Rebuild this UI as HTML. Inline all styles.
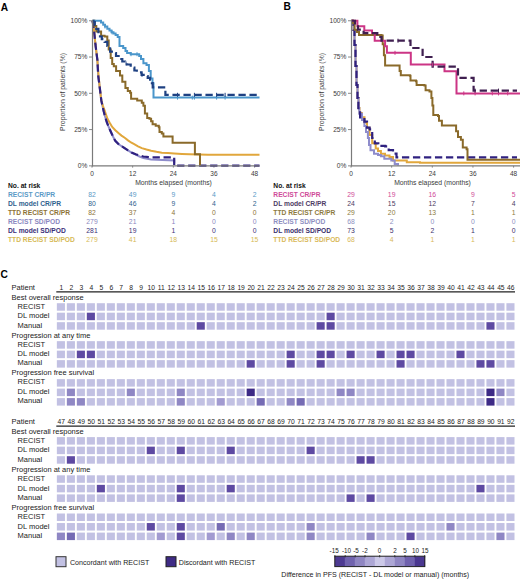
<!DOCTYPE html>
<html><head><meta charset="utf-8"><style>
html,body{margin:0;padding:0;background:#fff;}
svg{display:block;}
text{font-family:"Liberation Sans", sans-serif;}
</style></head><body>
<svg width="520" height="579" viewBox="0 0 520 579" style='font-family:"Liberation Sans", sans-serif'>
<rect width="520" height="579" fill="#fff"/>
<text x="0.8" y="11.2" font-size="10.2" font-weight="bold" fill="#000">A</text>
<text x="62.5" y="92" font-size="6.9" fill="#3a3a3a" text-anchor="middle" transform="rotate(-90 62.5 92)" dominant-baseline="central">Proportion of patients (%)</text>
<line x1="89.0" y1="165.85" x2="92.0" y2="165.85" stroke="#7a7a7a" stroke-width="0.9"/>
<text x="87.4" y="168.15" font-size="6.6" fill="#3a3a3a" text-anchor="end">0%</text>
<line x1="89.0" y1="129.575" x2="92.0" y2="129.575" stroke="#7a7a7a" stroke-width="0.9"/>
<text x="87.4" y="131.875" font-size="6.6" fill="#3a3a3a" text-anchor="end">25%</text>
<line x1="89.0" y1="93.3" x2="92.0" y2="93.3" stroke="#7a7a7a" stroke-width="0.9"/>
<text x="87.4" y="95.6" font-size="6.6" fill="#3a3a3a" text-anchor="end">50%</text>
<line x1="89.0" y1="57.02499999999999" x2="92.0" y2="57.02499999999999" stroke="#7a7a7a" stroke-width="0.9"/>
<text x="87.4" y="59.32499999999999" font-size="6.6" fill="#3a3a3a" text-anchor="end">75%</text>
<line x1="89.0" y1="20.75" x2="92.0" y2="20.75" stroke="#7a7a7a" stroke-width="0.9"/>
<text x="87.4" y="23.05" font-size="6.6" fill="#3a3a3a" text-anchor="end">100%</text>
<line x1="92.0" y1="165.85" x2="92.0" y2="167.65" stroke="#7a7a7a" stroke-width="0.9"/>
<text x="92.0" y="175.7" font-size="6.5" fill="#3a3a3a" text-anchor="middle">0</text>
<line x1="132.65" y1="165.85" x2="132.65" y2="167.65" stroke="#7a7a7a" stroke-width="0.9"/>
<text x="132.65" y="175.7" font-size="6.5" fill="#3a3a3a" text-anchor="middle">12</text>
<line x1="173.3" y1="165.85" x2="173.3" y2="167.65" stroke="#7a7a7a" stroke-width="0.9"/>
<text x="173.3" y="175.7" font-size="6.5" fill="#3a3a3a" text-anchor="middle">24</text>
<line x1="213.95" y1="165.85" x2="213.95" y2="167.65" stroke="#7a7a7a" stroke-width="0.9"/>
<text x="213.95" y="175.7" font-size="6.5" fill="#3a3a3a" text-anchor="middle">36</text>
<line x1="254.6" y1="165.85" x2="254.6" y2="167.65" stroke="#7a7a7a" stroke-width="0.9"/>
<text x="254.6" y="175.7" font-size="6.5" fill="#3a3a3a" text-anchor="middle">48</text>
<text x="173.5" y="185.2" font-size="6.8" fill="#3a3a3a" text-anchor="middle">Months elapsed (months)</text>
<polyline points="92.50,20.75 93.50,26.00 94.50,35.00 95.50,45.00 96.50,53.00 97.40,60.00 98.20,75.60 99.80,88.00 101.30,100.40 102.50,106.00 103.70,111.30 105.20,117.00 106.80,122.20 108.70,127.00 110.70,131.50 113.00,136.50 115.30,140.90 119.00,144.50 123.10,147.10 128.00,150.40 131.50,152.50 135.70,154.60 139.50,156.50 143.40,158.10 151.10,159.60 174.20,160.40 174.20,163.00" fill="none" stroke="#8e8ccb" stroke-width="2"/>
<polyline points="92.50,20.75 93.50,26.00 94.50,35.00 95.50,45.00 96.50,53.00 97.50,62.00 98.50,75.00 99.80,88.00 101.30,100.40 102.80,105.50 104.40,109.80 106.00,114.50 107.60,119.10 110.00,123.30 112.20,126.90 115.30,130.20 118.40,133.10 121.50,135.60 124.70,137.80 128.00,140.40 131.00,142.50 134.20,144.20 138.00,146.30 141.80,148.10 146.50,149.50 151.10,150.70 156.50,151.80 161.80,152.70 168.00,153.10 174.20,153.50 182.00,153.90 189.50,154.20 208.00,154.70 259.50,154.70" fill="none" stroke="#e1a73c" stroke-width="2"/>
<polyline points="92.50,20.75 93.50,26.00 94.50,35.00 95.50,45.00 96.50,53.00 97.40,60.00 98.20,75.60 99.80,88.00 101.30,100.40 102.50,106.00 103.70,111.30 105.20,117.00 106.80,122.20 108.70,127.00 110.70,131.50 113.00,136.50 115.30,140.90 119.00,144.50 123.10,147.10 128.00,150.40 131.50,152.50 135.70,154.20 139.50,155.50 143.40,156.50 151.10,157.30 174.20,157.30 174.20,165.70 259.50,165.70" fill="none" stroke="#2f2180" stroke-width="2.2" stroke-dasharray="7.3 3.7"/>
<polyline points="92.50,20.75 94.50,20.75 94.50,26.00 96.30,26.00 96.30,31.60 101.10,31.60 101.10,35.70 104.60,35.70 104.60,36.40 107.30,36.40 107.30,40.60 108.70,40.60 108.70,49.50 110.70,49.50 110.70,58.00 112.20,58.00 112.20,64.00 113.80,64.00 113.80,66.20 116.10,66.20 116.10,70.90 120.00,70.90 120.00,75.60 122.30,75.60 122.30,81.80 125.40,81.80 125.40,88.00 127.80,88.00 127.80,91.10 130.10,91.10 130.10,92.70 131.10,92.70 131.10,98.80 137.20,98.80 137.20,100.40 141.80,100.40 141.80,102.70 143.40,102.70 143.40,105.80 144.90,105.80 144.90,113.50 147.20,113.50 147.20,118.10 149.50,118.10 149.50,118.80 151.10,118.80 151.10,121.20 152.60,121.20 152.60,124.20 155.70,124.20 155.70,125.80 158.80,125.80 158.80,127.30 159.50,127.30 159.50,131.90 161.80,131.90 161.80,133.50 163.40,133.50 163.40,136.50 171.80,136.50 172.60,136.50 172.60,142.70 194.20,142.70 194.90,142.70 194.90,154.20 199.50,154.20 200.00,154.20 200.00,165.70" fill="none" stroke="#8a6a2a" stroke-width="2"/>
<polyline points="92.50,20.75 99.00,20.75 101.00,20.75 101.00,22.50 103.20,22.50 103.20,24.70 105.00,24.70 105.00,26.50 107.30,26.50 107.30,28.80 109.50,28.80 109.50,30.50 111.50,30.50 111.50,32.30 113.50,32.30 113.50,33.60 115.60,33.60 115.60,35.00 117.70,35.00 117.70,37.10 119.50,37.10 119.50,46.00 123.20,46.00 123.20,48.10 125.50,48.10 125.50,51.00 127.10,51.00 127.10,53.00 130.70,53.00 130.70,54.20 135.60,54.20 139.20,54.20 139.20,56.00 141.00,56.00 141.00,59.00 143.40,59.00 143.40,63.30 146.50,63.30 146.50,65.10 148.90,65.10 148.90,71.10 150.70,71.10 150.70,78.40 152.50,78.40 152.50,83.20 153.50,83.20 153.50,86.90 153.50,97.60 259.50,97.60" fill="none" stroke="#4a96cb" stroke-width="2"/>
<polyline points="92.50,20.75 93.50,20.75 93.50,22.00 94.80,22.00 94.80,25.00 96.30,25.00 96.30,28.80 98.40,28.80 98.40,33.60 100.00,33.60 100.00,36.50 101.80,36.50 101.80,39.20 104.60,39.20 104.60,41.90 107.30,41.90 107.30,46.00 110.10,46.00 110.10,51.60 113.60,51.60 113.60,53.00 116.00,53.00 116.00,56.00 118.60,56.00 118.60,59.00 122.30,59.00 122.30,61.50 125.00,61.50 125.00,63.00 127.10,63.00 127.10,64.50 130.70,64.50 130.70,67.50 134.40,67.50 134.40,70.50 136.80,70.50 136.80,72.30 141.60,72.30 141.60,74.80 145.20,74.80 145.20,76.00 147.70,76.00 147.70,77.80 150.10,77.80 150.10,79.60 151.90,79.60 151.90,83.20 152.70,83.20 152.70,87.30 162.70,87.30 165.40,87.30 165.40,94.80 259.50,94.80" fill="none" stroke="#1f4182" stroke-width="2.2" stroke-dasharray="7.3 3.7"/>
<line x1="177.5" y1="95.6" x2="177.5" y2="99.6" stroke="#4a96cb" stroke-width="1"/>
<line x1="192.3" y1="95.6" x2="192.3" y2="99.6" stroke="#4a96cb" stroke-width="1"/>
<line x1="194.4" y1="95.6" x2="194.4" y2="99.6" stroke="#4a96cb" stroke-width="1"/>
<line x1="216.6" y1="95.6" x2="216.6" y2="99.6" stroke="#4a96cb" stroke-width="1"/>
<line x1="225.1" y1="95.6" x2="225.1" y2="99.6" stroke="#4a96cb" stroke-width="1"/>
<line x1="177.5" y1="92.8" x2="177.5" y2="96.8" stroke="#1f4182" stroke-width="1"/>
<line x1="194.4" y1="92.8" x2="194.4" y2="96.8" stroke="#1f4182" stroke-width="1"/>
<line x1="216.6" y1="92.8" x2="216.6" y2="96.8" stroke="#1f4182" stroke-width="1"/>
<line x1="225.1" y1="92.8" x2="225.1" y2="96.8" stroke="#1f4182" stroke-width="1"/>
<line x1="105" y1="24.5" x2="105" y2="28.5" stroke="#4a96cb" stroke-width="1"/>
<line x1="112" y1="30.299999999999997" x2="112" y2="34.3" stroke="#4a96cb" stroke-width="1"/>
<line x1="131" y1="52.2" x2="131" y2="56.2" stroke="#4a96cb" stroke-width="1"/>
<line x1="137" y1="52.2" x2="137" y2="56.2" stroke="#4a96cb" stroke-width="1"/>
<line x1="126" y1="61.5" x2="126" y2="65.5" stroke="#1f4182" stroke-width="1"/>
<line x1="142" y1="72.8" x2="142" y2="76.8" stroke="#1f4182" stroke-width="1"/>
<line x1="92.5" y1="20.25" x2="92.5" y2="166.45" stroke="#7a7a7a" stroke-width="1.2"/>
<line x1="92.0" y1="165.85" x2="259.5" y2="165.85" stroke="#7a7a7a" stroke-width="1.4"/>
<text x="8.0" y="187.9" font-size="6.7" font-weight="bold" fill="#111">No. at risk</text>
<text x="8.0" y="196.6" font-size="6.7" font-weight="bold" fill="#5b9ac6">RECIST CR/PR</text>
<text x="92.0" y="196.6" font-size="6.8" fill="#5b9ac6" text-anchor="middle">82</text>
<text x="132.65" y="196.6" font-size="6.8" fill="#5b9ac6" text-anchor="middle">49</text>
<text x="173.3" y="196.6" font-size="6.8" fill="#5b9ac6" text-anchor="middle">9</text>
<text x="213.95" y="196.6" font-size="6.8" fill="#5b9ac6" text-anchor="middle">4</text>
<text x="254.6" y="196.6" font-size="6.8" fill="#5b9ac6" text-anchor="middle">2</text>
<text x="8.0" y="205.65" font-size="6.7" font-weight="bold" fill="#2f5f8e">DL model CR/PR</text>
<text x="92.0" y="205.65" font-size="6.8" fill="#2f5f8e" text-anchor="middle">80</text>
<text x="132.65" y="205.65" font-size="6.8" fill="#2f5f8e" text-anchor="middle">46</text>
<text x="173.3" y="205.65" font-size="6.8" fill="#2f5f8e" text-anchor="middle">9</text>
<text x="213.95" y="205.65" font-size="6.8" fill="#2f5f8e" text-anchor="middle">4</text>
<text x="254.6" y="205.65" font-size="6.8" fill="#2f5f8e" text-anchor="middle">2</text>
<text x="8.0" y="214.7" font-size="6.7" font-weight="bold" fill="#8d7236">TTD RECIST CR/PR</text>
<text x="92.0" y="214.7" font-size="6.8" fill="#8d7236" text-anchor="middle">82</text>
<text x="132.65" y="214.7" font-size="6.8" fill="#8d7236" text-anchor="middle">37</text>
<text x="173.3" y="214.7" font-size="6.8" fill="#8d7236" text-anchor="middle">4</text>
<text x="213.95" y="214.7" font-size="6.8" fill="#8d7236" text-anchor="middle">0</text>
<text x="254.6" y="214.7" font-size="6.8" fill="#8d7236" text-anchor="middle">0</text>
<text x="8.0" y="223.75" font-size="6.7" font-weight="bold" fill="#8b88c0">RECIST SD/POD</text>
<text x="92.0" y="223.75" font-size="6.8" fill="#8b88c0" text-anchor="middle">279</text>
<text x="132.65" y="223.75" font-size="6.8" fill="#8b88c0" text-anchor="middle">21</text>
<text x="173.3" y="223.75" font-size="6.8" fill="#8b88c0" text-anchor="middle">1</text>
<text x="213.95" y="223.75" font-size="6.8" fill="#8b88c0" text-anchor="middle">0</text>
<text x="254.6" y="223.75" font-size="6.8" fill="#8b88c0" text-anchor="middle">0</text>
<text x="8.0" y="232.8" font-size="6.7" font-weight="bold" fill="#3a2f78">DL model SD/POD</text>
<text x="92.0" y="232.8" font-size="6.8" fill="#3a2f78" text-anchor="middle">281</text>
<text x="132.65" y="232.8" font-size="6.8" fill="#3a2f78" text-anchor="middle">19</text>
<text x="173.3" y="232.8" font-size="6.8" fill="#3a2f78" text-anchor="middle">1</text>
<text x="213.95" y="232.8" font-size="6.8" fill="#3a2f78" text-anchor="middle">0</text>
<text x="254.6" y="232.8" font-size="6.8" fill="#3a2f78" text-anchor="middle">0</text>
<text x="8.0" y="241.85" font-size="6.7" font-weight="bold" fill="#d6ba55">TTD RECIST SD/POD</text>
<text x="92.0" y="241.85" font-size="6.8" fill="#d6ba55" text-anchor="middle">279</text>
<text x="132.65" y="241.85" font-size="6.8" fill="#d6ba55" text-anchor="middle">41</text>
<text x="173.3" y="241.85" font-size="6.8" fill="#d6ba55" text-anchor="middle">18</text>
<text x="213.95" y="241.85" font-size="6.8" fill="#d6ba55" text-anchor="middle">15</text>
<text x="254.6" y="241.85" font-size="6.8" fill="#d6ba55" text-anchor="middle">15</text>
<text x="283.6" y="9.6" font-size="10.2" font-weight="bold" fill="#000">B</text>
<text x="321.5" y="92" font-size="6.9" fill="#3a3a3a" text-anchor="middle" transform="rotate(-90 321.5 92)" dominant-baseline="central">Proportion of patients (%)</text>
<line x1="348.0" y1="165.85" x2="351.0" y2="165.85" stroke="#7a7a7a" stroke-width="0.9"/>
<text x="346.4" y="168.15" font-size="6.6" fill="#3a3a3a" text-anchor="end">0%</text>
<line x1="348.0" y1="129.575" x2="351.0" y2="129.575" stroke="#7a7a7a" stroke-width="0.9"/>
<text x="346.4" y="131.875" font-size="6.6" fill="#3a3a3a" text-anchor="end">25%</text>
<line x1="348.0" y1="93.3" x2="351.0" y2="93.3" stroke="#7a7a7a" stroke-width="0.9"/>
<text x="346.4" y="95.6" font-size="6.6" fill="#3a3a3a" text-anchor="end">50%</text>
<line x1="348.0" y1="57.02499999999999" x2="351.0" y2="57.02499999999999" stroke="#7a7a7a" stroke-width="0.9"/>
<text x="346.4" y="59.32499999999999" font-size="6.6" fill="#3a3a3a" text-anchor="end">75%</text>
<line x1="348.0" y1="20.75" x2="351.0" y2="20.75" stroke="#7a7a7a" stroke-width="0.9"/>
<text x="346.4" y="23.05" font-size="6.6" fill="#3a3a3a" text-anchor="end">100%</text>
<line x1="351.0" y1="165.85" x2="351.0" y2="167.65" stroke="#7a7a7a" stroke-width="0.9"/>
<text x="351.0" y="175.7" font-size="6.5" fill="#3a3a3a" text-anchor="middle">0</text>
<line x1="391.65" y1="165.85" x2="391.65" y2="167.65" stroke="#7a7a7a" stroke-width="0.9"/>
<text x="391.65" y="175.7" font-size="6.5" fill="#3a3a3a" text-anchor="middle">12</text>
<line x1="432.3" y1="165.85" x2="432.3" y2="167.65" stroke="#7a7a7a" stroke-width="0.9"/>
<text x="432.3" y="175.7" font-size="6.5" fill="#3a3a3a" text-anchor="middle">24</text>
<line x1="472.95" y1="165.85" x2="472.95" y2="167.65" stroke="#7a7a7a" stroke-width="0.9"/>
<text x="472.95" y="175.7" font-size="6.5" fill="#3a3a3a" text-anchor="middle">36</text>
<line x1="513.6" y1="165.85" x2="513.6" y2="167.65" stroke="#7a7a7a" stroke-width="0.9"/>
<text x="513.6" y="175.7" font-size="6.5" fill="#3a3a3a" text-anchor="middle">48</text>
<text x="432.5" y="185.2" font-size="6.8" fill="#3a3a3a" text-anchor="middle">Months elapsed (months)</text>
<polyline points="351.50,20.75 352.50,20.75 352.50,22.00 353.50,22.00 353.50,30.00 354.50,30.00 354.50,45.00 355.50,45.00 355.50,66.00 356.50,66.00 356.50,85.00 357.50,85.00 357.50,98.00 358.50,98.00 358.50,108.00 359.50,108.00 359.50,113.00 361.80,113.00 361.80,117.30 364.50,117.30 364.50,122.50 367.00,122.50 367.00,127.70 369.50,127.70 369.50,135.00 372.20,135.00 372.20,143.30 375.70,143.30 375.70,148.50 378.00,148.50 378.00,151.00 380.90,151.00 380.90,153.70 385.00,153.70 385.00,155.50 389.50,155.50 389.50,157.10 393.00,157.10 393.00,160.60 406.80,160.60 406.80,162.30 420.00,162.30 420.00,162.80 520.00,162.80" fill="none" stroke="#e1a73c" stroke-width="2"/>
<polyline points="351.50,20.75 352.50,20.75 352.50,22.00 353.50,22.00 353.50,30.00 354.50,30.00 354.50,45.00 355.50,45.00 355.50,66.00 356.50,66.00 356.50,85.00 357.50,85.00 357.50,98.00 358.50,98.00 358.50,108.00 359.20,108.00 359.20,113.80 362.00,113.80 362.00,120.00 364.40,120.00 364.40,126.00 366.00,126.00 366.00,132.00 367.90,132.00 367.90,138.00 369.00,138.00 369.00,145.00 370.50,145.00 370.50,150.20 374.00,150.20 374.00,153.70 378.00,153.70 378.00,155.00 380.90,155.00 380.90,156.20 384.30,156.20 384.30,158.80 391.30,158.80 391.30,160.60 394.70,160.60 394.70,164.00 398.00,164.00 398.00,165.40" fill="none" stroke="#8e8ccb" stroke-width="2"/>
<polyline points="351.50,20.75 352.50,20.75 352.50,22.00 353.50,22.00 353.50,30.00 354.50,30.00 354.50,45.00 355.50,45.00 355.50,66.00 356.50,66.00 356.50,85.00 357.50,85.00 357.50,98.00 358.40,98.00 358.40,110.40 360.10,110.40 360.10,119.00 364.40,119.00 364.40,121.60 367.00,121.60 367.00,127.70 369.60,127.70 369.60,129.40 372.20,129.40 372.20,138.00 374.80,138.00 374.80,143.30 378.30,143.30 378.30,145.90 385.20,145.90 385.20,146.40 388.70,146.40 388.70,150.20 393.00,150.20 393.00,153.70 396.50,153.70 396.50,157.30 517.00,157.30" fill="none" stroke="#2f2180" stroke-width="2.2" stroke-dasharray="7.3 3.7"/>
<polyline points="351.50,20.75 353.00,20.75 353.00,23.00 354.60,23.00 354.60,29.70 357.00,29.70 357.00,32.00 359.00,32.00 359.00,34.90 381.50,34.90 381.50,35.50 382.70,35.50 382.70,44.30 383.90,44.30 383.90,55.20 385.10,55.20 385.10,65.50 399.00,65.50 399.60,65.50 399.60,71.00 400.80,71.00 400.80,75.20 409.90,75.20 409.90,75.80 410.50,75.80 410.50,80.60 416.00,80.60 416.00,81.20 416.60,81.20 416.60,84.90 424.40,84.90 424.40,85.50 425.60,85.50 425.60,90.30 429.50,90.30 429.50,91.40 431.40,91.40 431.40,98.00 432.40,98.00 432.40,105.60 433.30,105.60 433.30,115.10 438.00,115.10 438.00,116.00 439.00,116.00 439.00,120.80 441.90,120.80 441.90,125.60 455.20,125.60 456.10,125.60 456.10,131.30 458.00,131.30 458.00,137.00 460.90,137.00 460.90,139.80 462.80,139.80 462.80,147.40 466.60,147.40 466.60,149.30 467.50,149.30 467.50,159.80 520.00,159.80" fill="none" stroke="#8a6a2a" stroke-width="2"/>
<polyline points="351.50,20.75 357.40,20.75 357.40,26.20 364.30,26.20 364.30,30.50 372.00,30.50 372.00,33.10 374.70,33.10 374.70,40.80 385.10,40.80 385.10,46.20 386.90,46.20 386.90,52.80 410.80,52.80 410.80,64.50 444.50,64.50 444.50,71.30 456.50,71.30 456.50,93.40 520.00,93.40" fill="none" stroke="#cc3585" stroke-width="2"/>
<polyline points="351.50,20.75 355.00,20.75 355.00,25.00 358.00,25.00 358.00,29.70 363.60,29.70 363.60,33.20 377.30,33.20 377.30,37.00 381.50,37.00 381.50,40.70 410.50,40.70 410.50,48.00 422.60,48.00 422.60,57.00 432.60,57.00 432.60,66.70 458.00,66.70 458.00,77.80 473.60,77.80 473.60,90.60 517.00,90.60" fill="none" stroke="#3f1f50" stroke-width="2.2" stroke-dasharray="7.3 3.7"/>
<line x1="463.8" y1="91.4" x2="463.8" y2="95.4" stroke="#cc3585" stroke-width="1"/>
<line x1="475.1" y1="91.4" x2="475.1" y2="95.4" stroke="#cc3585" stroke-width="1"/>
<line x1="492.3" y1="91.4" x2="492.3" y2="95.4" stroke="#cc3585" stroke-width="1"/>
<line x1="498.5" y1="91.4" x2="498.5" y2="95.4" stroke="#cc3585" stroke-width="1"/>
<line x1="507.7" y1="91.4" x2="507.7" y2="95.4" stroke="#cc3585" stroke-width="1"/>
<line x1="475.0" y1="88.6" x2="475.0" y2="92.6" stroke="#3f1f50" stroke-width="1"/>
<line x1="498.5" y1="88.6" x2="498.5" y2="92.6" stroke="#3f1f50" stroke-width="1"/>
<line x1="432.6" y1="62.5" x2="432.6" y2="66.5" stroke="#cc3585" stroke-width="1"/>
<line x1="398" y1="38.7" x2="398" y2="42.7" stroke="#3f1f50" stroke-width="1"/>
<line x1="395" y1="50.8" x2="395" y2="54.8" stroke="#cc3585" stroke-width="1"/>
<line x1="351.5" y1="20.25" x2="351.5" y2="166.45" stroke="#7a7a7a" stroke-width="1.2"/>
<line x1="351.0" y1="165.85" x2="520" y2="165.85" stroke="#7a7a7a" stroke-width="1.4"/>
<text x="273.3" y="187.9" font-size="6.7" font-weight="bold" fill="#111">No. at risk</text>
<text x="273.3" y="196.6" font-size="6.7" font-weight="bold" fill="#cf4b98">RECIST CR/PR</text>
<text x="351.0" y="196.6" font-size="6.8" fill="#cf4b98" text-anchor="middle">29</text>
<text x="391.65" y="196.6" font-size="6.8" fill="#cf4b98" text-anchor="middle">19</text>
<text x="432.3" y="196.6" font-size="6.8" fill="#cf4b98" text-anchor="middle">16</text>
<text x="472.95" y="196.6" font-size="6.8" fill="#cf4b98" text-anchor="middle">9</text>
<text x="513.6" y="196.6" font-size="6.8" fill="#cf4b98" text-anchor="middle">5</text>
<text x="273.3" y="205.65" font-size="6.7" font-weight="bold" fill="#4d3a63">DL model CR/PR</text>
<text x="351.0" y="205.65" font-size="6.8" fill="#4d3a63" text-anchor="middle">24</text>
<text x="391.65" y="205.65" font-size="6.8" fill="#4d3a63" text-anchor="middle">15</text>
<text x="432.3" y="205.65" font-size="6.8" fill="#4d3a63" text-anchor="middle">12</text>
<text x="472.95" y="205.65" font-size="6.8" fill="#4d3a63" text-anchor="middle">7</text>
<text x="513.6" y="205.65" font-size="6.8" fill="#4d3a63" text-anchor="middle">4</text>
<text x="273.3" y="214.7" font-size="6.7" font-weight="bold" fill="#8d7a3e">TTD RECIST CR/PR</text>
<text x="351.0" y="214.7" font-size="6.8" fill="#8d7a3e" text-anchor="middle">29</text>
<text x="391.65" y="214.7" font-size="6.8" fill="#8d7a3e" text-anchor="middle">20</text>
<text x="432.3" y="214.7" font-size="6.8" fill="#8d7a3e" text-anchor="middle">13</text>
<text x="472.95" y="214.7" font-size="6.8" fill="#8d7a3e" text-anchor="middle">1</text>
<text x="513.6" y="214.7" font-size="6.8" fill="#8d7a3e" text-anchor="middle">1</text>
<text x="273.3" y="223.75" font-size="6.7" font-weight="bold" fill="#8e8fbf">RECIST SD/POD</text>
<text x="351.0" y="223.75" font-size="6.8" fill="#8e8fbf" text-anchor="middle">68</text>
<text x="391.65" y="223.75" font-size="6.8" fill="#8e8fbf" text-anchor="middle">2</text>
<text x="432.3" y="223.75" font-size="6.8" fill="#8e8fbf" text-anchor="middle">0</text>
<text x="472.95" y="223.75" font-size="6.8" fill="#8e8fbf" text-anchor="middle">0</text>
<text x="513.6" y="223.75" font-size="6.8" fill="#8e8fbf" text-anchor="middle">0</text>
<text x="273.3" y="232.8" font-size="6.7" font-weight="bold" fill="#3b2f6c">DL model SD/POD</text>
<text x="351.0" y="232.8" font-size="6.8" fill="#3b2f6c" text-anchor="middle">73</text>
<text x="391.65" y="232.8" font-size="6.8" fill="#3b2f6c" text-anchor="middle">5</text>
<text x="432.3" y="232.8" font-size="6.8" fill="#3b2f6c" text-anchor="middle">2</text>
<text x="472.95" y="232.8" font-size="6.8" fill="#3b2f6c" text-anchor="middle">1</text>
<text x="513.6" y="232.8" font-size="6.8" fill="#3b2f6c" text-anchor="middle">0</text>
<text x="273.3" y="241.85" font-size="6.7" font-weight="bold" fill="#d9b95a">TTD RECIST SD/POD</text>
<text x="351.0" y="241.85" font-size="6.8" fill="#d9b95a" text-anchor="middle">68</text>
<text x="391.65" y="241.85" font-size="6.8" fill="#d9b95a" text-anchor="middle">4</text>
<text x="432.3" y="241.85" font-size="6.8" fill="#d9b95a" text-anchor="middle">1</text>
<text x="472.95" y="241.85" font-size="6.8" fill="#d9b95a" text-anchor="middle">1</text>
<text x="513.6" y="241.85" font-size="6.8" fill="#d9b95a" text-anchor="middle">1</text>
<text x="0.6" y="278.0" font-size="10.2" font-weight="bold" fill="#000">C</text>
<text x="11.6" y="289.67" font-size="7.5" fill="#222">Patient</text>
<text x="61.30" y="289.87" font-size="6.7" fill="#222" text-anchor="middle">1</text>
<text x="71.29" y="289.87" font-size="6.7" fill="#222" text-anchor="middle">2</text>
<text x="81.28" y="289.87" font-size="6.7" fill="#222" text-anchor="middle">3</text>
<text x="91.27" y="289.87" font-size="6.7" fill="#222" text-anchor="middle">4</text>
<text x="101.26" y="289.87" font-size="6.7" fill="#222" text-anchor="middle">5</text>
<text x="111.25" y="289.87" font-size="6.7" fill="#222" text-anchor="middle">6</text>
<text x="121.24" y="289.87" font-size="6.7" fill="#222" text-anchor="middle">7</text>
<text x="131.23" y="289.87" font-size="6.7" fill="#222" text-anchor="middle">8</text>
<text x="141.22" y="289.87" font-size="6.7" fill="#222" text-anchor="middle">9</text>
<text x="151.21" y="289.87" font-size="6.7" fill="#222" text-anchor="middle">10</text>
<text x="161.20" y="289.87" font-size="6.7" fill="#222" text-anchor="middle">11</text>
<text x="171.19" y="289.87" font-size="6.7" fill="#222" text-anchor="middle">12</text>
<text x="181.18" y="289.87" font-size="6.7" fill="#222" text-anchor="middle">13</text>
<text x="191.17" y="289.87" font-size="6.7" fill="#222" text-anchor="middle">14</text>
<text x="201.16" y="289.87" font-size="6.7" fill="#222" text-anchor="middle">15</text>
<text x="211.15" y="289.87" font-size="6.7" fill="#222" text-anchor="middle">16</text>
<text x="221.14" y="289.87" font-size="6.7" fill="#222" text-anchor="middle">17</text>
<text x="231.13" y="289.87" font-size="6.7" fill="#222" text-anchor="middle">18</text>
<text x="241.12" y="289.87" font-size="6.7" fill="#222" text-anchor="middle">19</text>
<text x="251.11" y="289.87" font-size="6.7" fill="#222" text-anchor="middle">20</text>
<text x="261.10" y="289.87" font-size="6.7" fill="#222" text-anchor="middle">21</text>
<text x="271.09" y="289.87" font-size="6.7" fill="#222" text-anchor="middle">22</text>
<text x="281.08" y="289.87" font-size="6.7" fill="#222" text-anchor="middle">23</text>
<text x="291.07" y="289.87" font-size="6.7" fill="#222" text-anchor="middle">24</text>
<text x="301.06" y="289.87" font-size="6.7" fill="#222" text-anchor="middle">25</text>
<text x="311.05" y="289.87" font-size="6.7" fill="#222" text-anchor="middle">26</text>
<text x="321.04" y="289.87" font-size="6.7" fill="#222" text-anchor="middle">27</text>
<text x="331.03" y="289.87" font-size="6.7" fill="#222" text-anchor="middle">28</text>
<text x="341.02" y="289.87" font-size="6.7" fill="#222" text-anchor="middle">29</text>
<text x="351.01" y="289.87" font-size="6.7" fill="#222" text-anchor="middle">30</text>
<text x="361.00" y="289.87" font-size="6.7" fill="#222" text-anchor="middle">31</text>
<text x="370.99" y="289.87" font-size="6.7" fill="#222" text-anchor="middle">32</text>
<text x="380.98" y="289.87" font-size="6.7" fill="#222" text-anchor="middle">33</text>
<text x="390.97" y="289.87" font-size="6.7" fill="#222" text-anchor="middle">34</text>
<text x="400.96" y="289.87" font-size="6.7" fill="#222" text-anchor="middle">35</text>
<text x="410.95" y="289.87" font-size="6.7" fill="#222" text-anchor="middle">36</text>
<text x="420.94" y="289.87" font-size="6.7" fill="#222" text-anchor="middle">37</text>
<text x="430.93" y="289.87" font-size="6.7" fill="#222" text-anchor="middle">38</text>
<text x="440.92" y="289.87" font-size="6.7" fill="#222" text-anchor="middle">39</text>
<text x="450.91" y="289.87" font-size="6.7" fill="#222" text-anchor="middle">40</text>
<text x="460.90" y="289.87" font-size="6.7" fill="#222" text-anchor="middle">41</text>
<text x="470.89" y="289.87" font-size="6.7" fill="#222" text-anchor="middle">42</text>
<text x="480.88" y="289.87" font-size="6.7" fill="#222" text-anchor="middle">43</text>
<text x="490.87" y="289.87" font-size="6.7" fill="#222" text-anchor="middle">44</text>
<text x="500.86" y="289.87" font-size="6.7" fill="#222" text-anchor="middle">45</text>
<text x="510.85" y="289.87" font-size="6.7" fill="#222" text-anchor="middle">46</text>
<line x1="56.3" y1="291.81" x2="515" y2="291.81" stroke="#222" stroke-width="1.3"/>
<text x="11.6" y="299.56" font-size="7.5" fill="#222">Best overall response</text>
<text x="17.6" y="308.55" font-size="7.5" fill="#222">RECIST</text>
<rect x="56.85" y="303.20" width="8.1" height="7.5" fill="#c2c1e3"/>
<rect x="66.84" y="303.20" width="8.1" height="7.5" fill="#c2c1e3"/>
<rect x="76.83" y="303.20" width="8.1" height="7.5" fill="#c2c1e3"/>
<rect x="86.82" y="303.20" width="8.1" height="7.5" fill="#c2c1e3"/>
<rect x="96.81" y="303.20" width="8.1" height="7.5" fill="#c2c1e3"/>
<rect x="106.80" y="303.20" width="8.1" height="7.5" fill="#c2c1e3"/>
<rect x="116.79" y="303.20" width="8.1" height="7.5" fill="#c2c1e3"/>
<rect x="126.78" y="303.20" width="8.1" height="7.5" fill="#c2c1e3"/>
<rect x="136.77" y="303.20" width="8.1" height="7.5" fill="#c2c1e3"/>
<rect x="146.76" y="303.20" width="8.1" height="7.5" fill="#c2c1e3"/>
<rect x="156.75" y="303.20" width="8.1" height="7.5" fill="#c2c1e3"/>
<rect x="166.74" y="303.20" width="8.1" height="7.5" fill="#c2c1e3"/>
<rect x="176.73" y="303.20" width="8.1" height="7.5" fill="#c2c1e3"/>
<rect x="186.72" y="303.20" width="8.1" height="7.5" fill="#c2c1e3"/>
<rect x="196.71" y="303.20" width="8.1" height="7.5" fill="#c2c1e3"/>
<rect x="206.70" y="303.20" width="8.1" height="7.5" fill="#c2c1e3"/>
<rect x="216.69" y="303.20" width="8.1" height="7.5" fill="#c2c1e3"/>
<rect x="226.68" y="303.20" width="8.1" height="7.5" fill="#c2c1e3"/>
<rect x="236.67" y="303.20" width="8.1" height="7.5" fill="#c2c1e3"/>
<rect x="246.66" y="303.20" width="8.1" height="7.5" fill="#c2c1e3"/>
<rect x="256.65" y="303.20" width="8.1" height="7.5" fill="#c2c1e3"/>
<rect x="266.64" y="303.20" width="8.1" height="7.5" fill="#c2c1e3"/>
<rect x="276.63" y="303.20" width="8.1" height="7.5" fill="#c2c1e3"/>
<rect x="286.62" y="303.20" width="8.1" height="7.5" fill="#c2c1e3"/>
<rect x="296.61" y="303.20" width="8.1" height="7.5" fill="#c2c1e3"/>
<rect x="306.60" y="303.20" width="8.1" height="7.5" fill="#c2c1e3"/>
<rect x="316.59" y="303.20" width="8.1" height="7.5" fill="#c2c1e3"/>
<rect x="326.58" y="303.20" width="8.1" height="7.5" fill="#c2c1e3"/>
<rect x="336.57" y="303.20" width="8.1" height="7.5" fill="#c2c1e3"/>
<rect x="346.56" y="303.20" width="8.1" height="7.5" fill="#c2c1e3"/>
<rect x="356.55" y="303.20" width="8.1" height="7.5" fill="#c2c1e3"/>
<rect x="366.54" y="303.20" width="8.1" height="7.5" fill="#c2c1e3"/>
<rect x="376.53" y="303.20" width="8.1" height="7.5" fill="#c2c1e3"/>
<rect x="386.52" y="303.20" width="8.1" height="7.5" fill="#c2c1e3"/>
<rect x="396.51" y="303.20" width="8.1" height="7.5" fill="#c2c1e3"/>
<rect x="406.50" y="303.20" width="8.1" height="7.5" fill="#c2c1e3"/>
<rect x="416.49" y="303.20" width="8.1" height="7.5" fill="#c2c1e3"/>
<rect x="426.48" y="303.20" width="8.1" height="7.5" fill="#c2c1e3"/>
<rect x="436.47" y="303.20" width="8.1" height="7.5" fill="#c2c1e3"/>
<rect x="446.46" y="303.20" width="8.1" height="7.5" fill="#c2c1e3"/>
<rect x="456.45" y="303.20" width="8.1" height="7.5" fill="#c2c1e3"/>
<rect x="466.44" y="303.20" width="8.1" height="7.5" fill="#c2c1e3"/>
<rect x="476.43" y="303.20" width="8.1" height="7.5" fill="#c2c1e3"/>
<rect x="486.42" y="303.20" width="8.1" height="7.5" fill="#c2c1e3"/>
<rect x="496.41" y="303.20" width="8.1" height="7.5" fill="#c2c1e3"/>
<rect x="506.40" y="303.20" width="8.1" height="7.5" fill="#c2c1e3"/>
<text x="17.6" y="318.04" font-size="7.5" fill="#222">DL model</text>
<rect x="56.85" y="312.69" width="8.1" height="7.5" fill="#c2c1e3"/>
<rect x="66.84" y="312.69" width="8.1" height="7.5" fill="#c2c1e3"/>
<rect x="76.83" y="312.69" width="8.1" height="7.5" fill="#c2c1e3"/>
<rect x="86.82" y="312.69" width="8.1" height="7.5" fill="#5e4aa2"/>
<rect x="96.81" y="312.69" width="8.1" height="7.5" fill="#c2c1e3"/>
<rect x="106.80" y="312.69" width="8.1" height="7.5" fill="#c2c1e3"/>
<rect x="116.79" y="312.69" width="8.1" height="7.5" fill="#c2c1e3"/>
<rect x="126.78" y="312.69" width="8.1" height="7.5" fill="#c2c1e3"/>
<rect x="136.77" y="312.69" width="8.1" height="7.5" fill="#c2c1e3"/>
<rect x="146.76" y="312.69" width="8.1" height="7.5" fill="#c2c1e3"/>
<rect x="156.75" y="312.69" width="8.1" height="7.5" fill="#c2c1e3"/>
<rect x="166.74" y="312.69" width="8.1" height="7.5" fill="#c2c1e3"/>
<rect x="176.73" y="312.69" width="8.1" height="7.5" fill="#c2c1e3"/>
<rect x="186.72" y="312.69" width="8.1" height="7.5" fill="#c2c1e3"/>
<rect x="196.71" y="312.69" width="8.1" height="7.5" fill="#c2c1e3"/>
<rect x="206.70" y="312.69" width="8.1" height="7.5" fill="#c2c1e3"/>
<rect x="216.69" y="312.69" width="8.1" height="7.5" fill="#c2c1e3"/>
<rect x="226.68" y="312.69" width="8.1" height="7.5" fill="#c2c1e3"/>
<rect x="236.67" y="312.69" width="8.1" height="7.5" fill="#c2c1e3"/>
<rect x="246.66" y="312.69" width="8.1" height="7.5" fill="#c2c1e3"/>
<rect x="256.65" y="312.69" width="8.1" height="7.5" fill="#c2c1e3"/>
<rect x="266.64" y="312.69" width="8.1" height="7.5" fill="#c2c1e3"/>
<rect x="276.63" y="312.69" width="8.1" height="7.5" fill="#c2c1e3"/>
<rect x="286.62" y="312.69" width="8.1" height="7.5" fill="#c2c1e3"/>
<rect x="296.61" y="312.69" width="8.1" height="7.5" fill="#c2c1e3"/>
<rect x="306.60" y="312.69" width="8.1" height="7.5" fill="#c2c1e3"/>
<rect x="316.59" y="312.69" width="8.1" height="7.5" fill="#c2c1e3"/>
<rect x="326.58" y="312.69" width="8.1" height="7.5" fill="#5e4aa2"/>
<rect x="336.57" y="312.69" width="8.1" height="7.5" fill="#c2c1e3"/>
<rect x="346.56" y="312.69" width="8.1" height="7.5" fill="#c2c1e3"/>
<rect x="356.55" y="312.69" width="8.1" height="7.5" fill="#c2c1e3"/>
<rect x="366.54" y="312.69" width="8.1" height="7.5" fill="#c2c1e3"/>
<rect x="376.53" y="312.69" width="8.1" height="7.5" fill="#c2c1e3"/>
<rect x="386.52" y="312.69" width="8.1" height="7.5" fill="#c2c1e3"/>
<rect x="396.51" y="312.69" width="8.1" height="7.5" fill="#c2c1e3"/>
<rect x="406.50" y="312.69" width="8.1" height="7.5" fill="#c2c1e3"/>
<rect x="416.49" y="312.69" width="8.1" height="7.5" fill="#c2c1e3"/>
<rect x="426.48" y="312.69" width="8.1" height="7.5" fill="#c2c1e3"/>
<rect x="436.47" y="312.69" width="8.1" height="7.5" fill="#c2c1e3"/>
<rect x="446.46" y="312.69" width="8.1" height="7.5" fill="#c2c1e3"/>
<rect x="456.45" y="312.69" width="8.1" height="7.5" fill="#c2c1e3"/>
<rect x="466.44" y="312.69" width="8.1" height="7.5" fill="#c2c1e3"/>
<rect x="476.43" y="312.69" width="8.1" height="7.5" fill="#c2c1e3"/>
<rect x="486.42" y="312.69" width="8.1" height="7.5" fill="#c2c1e3"/>
<rect x="496.41" y="312.69" width="8.1" height="7.5" fill="#c2c1e3"/>
<rect x="506.40" y="312.69" width="8.1" height="7.5" fill="#c2c1e3"/>
<text x="17.6" y="327.53" font-size="7.5" fill="#222">Manual</text>
<rect x="56.85" y="322.18" width="8.1" height="7.5" fill="#c2c1e3"/>
<rect x="66.84" y="322.18" width="8.1" height="7.5" fill="#c2c1e3"/>
<rect x="76.83" y="322.18" width="8.1" height="7.5" fill="#c2c1e3"/>
<rect x="86.82" y="322.18" width="8.1" height="7.5" fill="#c2c1e3"/>
<rect x="96.81" y="322.18" width="8.1" height="7.5" fill="#c2c1e3"/>
<rect x="106.80" y="322.18" width="8.1" height="7.5" fill="#c2c1e3"/>
<rect x="116.79" y="322.18" width="8.1" height="7.5" fill="#c2c1e3"/>
<rect x="126.78" y="322.18" width="8.1" height="7.5" fill="#c2c1e3"/>
<rect x="136.77" y="322.18" width="8.1" height="7.5" fill="#c2c1e3"/>
<rect x="146.76" y="322.18" width="8.1" height="7.5" fill="#c2c1e3"/>
<rect x="156.75" y="322.18" width="8.1" height="7.5" fill="#c2c1e3"/>
<rect x="166.74" y="322.18" width="8.1" height="7.5" fill="#c2c1e3"/>
<rect x="176.73" y="322.18" width="8.1" height="7.5" fill="#c2c1e3"/>
<rect x="186.72" y="322.18" width="8.1" height="7.5" fill="#c2c1e3"/>
<rect x="196.71" y="322.18" width="8.1" height="7.5" fill="#5e4aa2"/>
<rect x="206.70" y="322.18" width="8.1" height="7.5" fill="#c2c1e3"/>
<rect x="216.69" y="322.18" width="8.1" height="7.5" fill="#c2c1e3"/>
<rect x="226.68" y="322.18" width="8.1" height="7.5" fill="#c2c1e3"/>
<rect x="236.67" y="322.18" width="8.1" height="7.5" fill="#c2c1e3"/>
<rect x="246.66" y="322.18" width="8.1" height="7.5" fill="#c2c1e3"/>
<rect x="256.65" y="322.18" width="8.1" height="7.5" fill="#c2c1e3"/>
<rect x="266.64" y="322.18" width="8.1" height="7.5" fill="#c2c1e3"/>
<rect x="276.63" y="322.18" width="8.1" height="7.5" fill="#c2c1e3"/>
<rect x="286.62" y="322.18" width="8.1" height="7.5" fill="#c2c1e3"/>
<rect x="296.61" y="322.18" width="8.1" height="7.5" fill="#c2c1e3"/>
<rect x="306.60" y="322.18" width="8.1" height="7.5" fill="#c2c1e3"/>
<rect x="316.59" y="322.18" width="8.1" height="7.5" fill="#5e4aa2"/>
<rect x="326.58" y="322.18" width="8.1" height="7.5" fill="#5e4aa2"/>
<rect x="336.57" y="322.18" width="8.1" height="7.5" fill="#c2c1e3"/>
<rect x="346.56" y="322.18" width="8.1" height="7.5" fill="#c2c1e3"/>
<rect x="356.55" y="322.18" width="8.1" height="7.5" fill="#c2c1e3"/>
<rect x="366.54" y="322.18" width="8.1" height="7.5" fill="#c2c1e3"/>
<rect x="376.53" y="322.18" width="8.1" height="7.5" fill="#c2c1e3"/>
<rect x="386.52" y="322.18" width="8.1" height="7.5" fill="#c2c1e3"/>
<rect x="396.51" y="322.18" width="8.1" height="7.5" fill="#c2c1e3"/>
<rect x="406.50" y="322.18" width="8.1" height="7.5" fill="#c2c1e3"/>
<rect x="416.49" y="322.18" width="8.1" height="7.5" fill="#c2c1e3"/>
<rect x="426.48" y="322.18" width="8.1" height="7.5" fill="#c2c1e3"/>
<rect x="436.47" y="322.18" width="8.1" height="7.5" fill="#c2c1e3"/>
<rect x="446.46" y="322.18" width="8.1" height="7.5" fill="#c2c1e3"/>
<rect x="456.45" y="322.18" width="8.1" height="7.5" fill="#c2c1e3"/>
<rect x="466.44" y="322.18" width="8.1" height="7.5" fill="#c2c1e3"/>
<rect x="476.43" y="322.18" width="8.1" height="7.5" fill="#c2c1e3"/>
<rect x="486.42" y="322.18" width="8.1" height="7.5" fill="#5e4aa2"/>
<rect x="496.41" y="322.18" width="8.1" height="7.5" fill="#c2c1e3"/>
<rect x="506.40" y="322.18" width="8.1" height="7.5" fill="#c2c1e3"/>
<text x="11.6" y="337.52" font-size="7.5" fill="#222">Progression at any time</text>
<text x="17.6" y="346.51" font-size="7.5" fill="#222">RECIST</text>
<rect x="56.85" y="341.16" width="8.1" height="7.5" fill="#c2c1e3"/>
<rect x="66.84" y="341.16" width="8.1" height="7.5" fill="#c2c1e3"/>
<rect x="76.83" y="341.16" width="8.1" height="7.5" fill="#c2c1e3"/>
<rect x="86.82" y="341.16" width="8.1" height="7.5" fill="#c2c1e3"/>
<rect x="96.81" y="341.16" width="8.1" height="7.5" fill="#c2c1e3"/>
<rect x="106.80" y="341.16" width="8.1" height="7.5" fill="#c2c1e3"/>
<rect x="116.79" y="341.16" width="8.1" height="7.5" fill="#c2c1e3"/>
<rect x="126.78" y="341.16" width="8.1" height="7.5" fill="#c2c1e3"/>
<rect x="136.77" y="341.16" width="8.1" height="7.5" fill="#c2c1e3"/>
<rect x="146.76" y="341.16" width="8.1" height="7.5" fill="#c2c1e3"/>
<rect x="156.75" y="341.16" width="8.1" height="7.5" fill="#c2c1e3"/>
<rect x="166.74" y="341.16" width="8.1" height="7.5" fill="#c2c1e3"/>
<rect x="176.73" y="341.16" width="8.1" height="7.5" fill="#c2c1e3"/>
<rect x="186.72" y="341.16" width="8.1" height="7.5" fill="#c2c1e3"/>
<rect x="196.71" y="341.16" width="8.1" height="7.5" fill="#c2c1e3"/>
<rect x="206.70" y="341.16" width="8.1" height="7.5" fill="#c2c1e3"/>
<rect x="216.69" y="341.16" width="8.1" height="7.5" fill="#c2c1e3"/>
<rect x="226.68" y="341.16" width="8.1" height="7.5" fill="#c2c1e3"/>
<rect x="236.67" y="341.16" width="8.1" height="7.5" fill="#c2c1e3"/>
<rect x="246.66" y="341.16" width="8.1" height="7.5" fill="#c2c1e3"/>
<rect x="256.65" y="341.16" width="8.1" height="7.5" fill="#c2c1e3"/>
<rect x="266.64" y="341.16" width="8.1" height="7.5" fill="#c2c1e3"/>
<rect x="276.63" y="341.16" width="8.1" height="7.5" fill="#c2c1e3"/>
<rect x="286.62" y="341.16" width="8.1" height="7.5" fill="#c2c1e3"/>
<rect x="296.61" y="341.16" width="8.1" height="7.5" fill="#c2c1e3"/>
<rect x="306.60" y="341.16" width="8.1" height="7.5" fill="#c2c1e3"/>
<rect x="316.59" y="341.16" width="8.1" height="7.5" fill="#c2c1e3"/>
<rect x="326.58" y="341.16" width="8.1" height="7.5" fill="#c2c1e3"/>
<rect x="336.57" y="341.16" width="8.1" height="7.5" fill="#c2c1e3"/>
<rect x="346.56" y="341.16" width="8.1" height="7.5" fill="#c2c1e3"/>
<rect x="356.55" y="341.16" width="8.1" height="7.5" fill="#c2c1e3"/>
<rect x="366.54" y="341.16" width="8.1" height="7.5" fill="#c2c1e3"/>
<rect x="376.53" y="341.16" width="8.1" height="7.5" fill="#c2c1e3"/>
<rect x="386.52" y="341.16" width="8.1" height="7.5" fill="#c2c1e3"/>
<rect x="396.51" y="341.16" width="8.1" height="7.5" fill="#c2c1e3"/>
<rect x="406.50" y="341.16" width="8.1" height="7.5" fill="#c2c1e3"/>
<rect x="416.49" y="341.16" width="8.1" height="7.5" fill="#c2c1e3"/>
<rect x="426.48" y="341.16" width="8.1" height="7.5" fill="#c2c1e3"/>
<rect x="436.47" y="341.16" width="8.1" height="7.5" fill="#c2c1e3"/>
<rect x="446.46" y="341.16" width="8.1" height="7.5" fill="#c2c1e3"/>
<rect x="456.45" y="341.16" width="8.1" height="7.5" fill="#c2c1e3"/>
<rect x="466.44" y="341.16" width="8.1" height="7.5" fill="#c2c1e3"/>
<rect x="476.43" y="341.16" width="8.1" height="7.5" fill="#c2c1e3"/>
<rect x="486.42" y="341.16" width="8.1" height="7.5" fill="#c2c1e3"/>
<rect x="496.41" y="341.16" width="8.1" height="7.5" fill="#c2c1e3"/>
<rect x="506.40" y="341.16" width="8.1" height="7.5" fill="#c2c1e3"/>
<text x="17.6" y="356.00" font-size="7.5" fill="#222">DL model</text>
<rect x="56.85" y="350.65" width="8.1" height="7.5" fill="#c2c1e3"/>
<rect x="66.84" y="350.65" width="8.1" height="7.5" fill="#c2c1e3"/>
<rect x="76.83" y="350.65" width="8.1" height="7.5" fill="#5e4aa2"/>
<rect x="86.82" y="350.65" width="8.1" height="7.5" fill="#5e4aa2"/>
<rect x="96.81" y="350.65" width="8.1" height="7.5" fill="#c2c1e3"/>
<rect x="106.80" y="350.65" width="8.1" height="7.5" fill="#c2c1e3"/>
<rect x="116.79" y="350.65" width="8.1" height="7.5" fill="#c2c1e3"/>
<rect x="126.78" y="350.65" width="8.1" height="7.5" fill="#c2c1e3"/>
<rect x="136.77" y="350.65" width="8.1" height="7.5" fill="#c2c1e3"/>
<rect x="146.76" y="350.65" width="8.1" height="7.5" fill="#c2c1e3"/>
<rect x="156.75" y="350.65" width="8.1" height="7.5" fill="#c2c1e3"/>
<rect x="166.74" y="350.65" width="8.1" height="7.5" fill="#c2c1e3"/>
<rect x="176.73" y="350.65" width="8.1" height="7.5" fill="#c2c1e3"/>
<rect x="186.72" y="350.65" width="8.1" height="7.5" fill="#c2c1e3"/>
<rect x="196.71" y="350.65" width="8.1" height="7.5" fill="#c2c1e3"/>
<rect x="206.70" y="350.65" width="8.1" height="7.5" fill="#c2c1e3"/>
<rect x="216.69" y="350.65" width="8.1" height="7.5" fill="#c2c1e3"/>
<rect x="226.68" y="350.65" width="8.1" height="7.5" fill="#c2c1e3"/>
<rect x="236.67" y="350.65" width="8.1" height="7.5" fill="#c2c1e3"/>
<rect x="246.66" y="350.65" width="8.1" height="7.5" fill="#c2c1e3"/>
<rect x="256.65" y="350.65" width="8.1" height="7.5" fill="#c2c1e3"/>
<rect x="266.64" y="350.65" width="8.1" height="7.5" fill="#c2c1e3"/>
<rect x="276.63" y="350.65" width="8.1" height="7.5" fill="#c2c1e3"/>
<rect x="286.62" y="350.65" width="8.1" height="7.5" fill="#5e4aa2"/>
<rect x="296.61" y="350.65" width="8.1" height="7.5" fill="#c2c1e3"/>
<rect x="306.60" y="350.65" width="8.1" height="7.5" fill="#c2c1e3"/>
<rect x="316.59" y="350.65" width="8.1" height="7.5" fill="#5e4aa2"/>
<rect x="326.58" y="350.65" width="8.1" height="7.5" fill="#5e4aa2"/>
<rect x="336.57" y="350.65" width="8.1" height="7.5" fill="#c2c1e3"/>
<rect x="346.56" y="350.65" width="8.1" height="7.5" fill="#5e4aa2"/>
<rect x="356.55" y="350.65" width="8.1" height="7.5" fill="#c2c1e3"/>
<rect x="366.54" y="350.65" width="8.1" height="7.5" fill="#c2c1e3"/>
<rect x="376.53" y="350.65" width="8.1" height="7.5" fill="#5e4aa2"/>
<rect x="386.52" y="350.65" width="8.1" height="7.5" fill="#c2c1e3"/>
<rect x="396.51" y="350.65" width="8.1" height="7.5" fill="#5e4aa2"/>
<rect x="406.50" y="350.65" width="8.1" height="7.5" fill="#5e4aa2"/>
<rect x="416.49" y="350.65" width="8.1" height="7.5" fill="#c2c1e3"/>
<rect x="426.48" y="350.65" width="8.1" height="7.5" fill="#c2c1e3"/>
<rect x="436.47" y="350.65" width="8.1" height="7.5" fill="#c2c1e3"/>
<rect x="446.46" y="350.65" width="8.1" height="7.5" fill="#c2c1e3"/>
<rect x="456.45" y="350.65" width="8.1" height="7.5" fill="#5e4aa2"/>
<rect x="466.44" y="350.65" width="8.1" height="7.5" fill="#c2c1e3"/>
<rect x="476.43" y="350.65" width="8.1" height="7.5" fill="#c2c1e3"/>
<rect x="486.42" y="350.65" width="8.1" height="7.5" fill="#c2c1e3"/>
<rect x="496.41" y="350.65" width="8.1" height="7.5" fill="#c2c1e3"/>
<rect x="506.40" y="350.65" width="8.1" height="7.5" fill="#c2c1e3"/>
<text x="17.6" y="365.49" font-size="7.5" fill="#222">Manual</text>
<rect x="56.85" y="360.14" width="8.1" height="7.5" fill="#c2c1e3"/>
<rect x="66.84" y="360.14" width="8.1" height="7.5" fill="#c2c1e3"/>
<rect x="76.83" y="360.14" width="8.1" height="7.5" fill="#c2c1e3"/>
<rect x="86.82" y="360.14" width="8.1" height="7.5" fill="#c2c1e3"/>
<rect x="96.81" y="360.14" width="8.1" height="7.5" fill="#c2c1e3"/>
<rect x="106.80" y="360.14" width="8.1" height="7.5" fill="#c2c1e3"/>
<rect x="116.79" y="360.14" width="8.1" height="7.5" fill="#c2c1e3"/>
<rect x="126.78" y="360.14" width="8.1" height="7.5" fill="#c2c1e3"/>
<rect x="136.77" y="360.14" width="8.1" height="7.5" fill="#c2c1e3"/>
<rect x="146.76" y="360.14" width="8.1" height="7.5" fill="#c2c1e3"/>
<rect x="156.75" y="360.14" width="8.1" height="7.5" fill="#c2c1e3"/>
<rect x="166.74" y="360.14" width="8.1" height="7.5" fill="#c2c1e3"/>
<rect x="176.73" y="360.14" width="8.1" height="7.5" fill="#c2c1e3"/>
<rect x="186.72" y="360.14" width="8.1" height="7.5" fill="#c2c1e3"/>
<rect x="196.71" y="360.14" width="8.1" height="7.5" fill="#c2c1e3"/>
<rect x="206.70" y="360.14" width="8.1" height="7.5" fill="#c2c1e3"/>
<rect x="216.69" y="360.14" width="8.1" height="7.5" fill="#c2c1e3"/>
<rect x="226.68" y="360.14" width="8.1" height="7.5" fill="#c2c1e3"/>
<rect x="236.67" y="360.14" width="8.1" height="7.5" fill="#c2c1e3"/>
<rect x="246.66" y="360.14" width="8.1" height="7.5" fill="#5e4aa2"/>
<rect x="256.65" y="360.14" width="8.1" height="7.5" fill="#c2c1e3"/>
<rect x="266.64" y="360.14" width="8.1" height="7.5" fill="#c2c1e3"/>
<rect x="276.63" y="360.14" width="8.1" height="7.5" fill="#c2c1e3"/>
<rect x="286.62" y="360.14" width="8.1" height="7.5" fill="#5e4aa2"/>
<rect x="296.61" y="360.14" width="8.1" height="7.5" fill="#c2c1e3"/>
<rect x="306.60" y="360.14" width="8.1" height="7.5" fill="#c2c1e3"/>
<rect x="316.59" y="360.14" width="8.1" height="7.5" fill="#5e4aa2"/>
<rect x="326.58" y="360.14" width="8.1" height="7.5" fill="#c2c1e3"/>
<rect x="336.57" y="360.14" width="8.1" height="7.5" fill="#c2c1e3"/>
<rect x="346.56" y="360.14" width="8.1" height="7.5" fill="#c2c1e3"/>
<rect x="356.55" y="360.14" width="8.1" height="7.5" fill="#c2c1e3"/>
<rect x="366.54" y="360.14" width="8.1" height="7.5" fill="#c2c1e3"/>
<rect x="376.53" y="360.14" width="8.1" height="7.5" fill="#c2c1e3"/>
<rect x="386.52" y="360.14" width="8.1" height="7.5" fill="#c2c1e3"/>
<rect x="396.51" y="360.14" width="8.1" height="7.5" fill="#5e4aa2"/>
<rect x="406.50" y="360.14" width="8.1" height="7.5" fill="#c2c1e3"/>
<rect x="416.49" y="360.14" width="8.1" height="7.5" fill="#c2c1e3"/>
<rect x="426.48" y="360.14" width="8.1" height="7.5" fill="#c2c1e3"/>
<rect x="436.47" y="360.14" width="8.1" height="7.5" fill="#c2c1e3"/>
<rect x="446.46" y="360.14" width="8.1" height="7.5" fill="#c2c1e3"/>
<rect x="456.45" y="360.14" width="8.1" height="7.5" fill="#c2c1e3"/>
<rect x="466.44" y="360.14" width="8.1" height="7.5" fill="#c2c1e3"/>
<rect x="476.43" y="360.14" width="8.1" height="7.5" fill="#5e4aa2"/>
<rect x="486.42" y="360.14" width="8.1" height="7.5" fill="#5e4aa2"/>
<rect x="496.41" y="360.14" width="8.1" height="7.5" fill="#c2c1e3"/>
<rect x="506.40" y="360.14" width="8.1" height="7.5" fill="#c2c1e3"/>
<text x="11.6" y="375.48" font-size="7.5" fill="#222">Progression free survival</text>
<text x="17.6" y="384.47" font-size="7.5" fill="#222">RECIST</text>
<rect x="56.85" y="379.12" width="8.1" height="7.5" fill="#c2c1e3"/>
<rect x="66.84" y="379.12" width="8.1" height="7.5" fill="#c2c1e3"/>
<rect x="76.83" y="379.12" width="8.1" height="7.5" fill="#c2c1e3"/>
<rect x="86.82" y="379.12" width="8.1" height="7.5" fill="#c2c1e3"/>
<rect x="96.81" y="379.12" width="8.1" height="7.5" fill="#c2c1e3"/>
<rect x="106.80" y="379.12" width="8.1" height="7.5" fill="#c2c1e3"/>
<rect x="116.79" y="379.12" width="8.1" height="7.5" fill="#c2c1e3"/>
<rect x="126.78" y="379.12" width="8.1" height="7.5" fill="#c2c1e3"/>
<rect x="136.77" y="379.12" width="8.1" height="7.5" fill="#c2c1e3"/>
<rect x="146.76" y="379.12" width="8.1" height="7.5" fill="#c2c1e3"/>
<rect x="156.75" y="379.12" width="8.1" height="7.5" fill="#c2c1e3"/>
<rect x="166.74" y="379.12" width="8.1" height="7.5" fill="#c2c1e3"/>
<rect x="176.73" y="379.12" width="8.1" height="7.5" fill="#c2c1e3"/>
<rect x="186.72" y="379.12" width="8.1" height="7.5" fill="#c2c1e3"/>
<rect x="196.71" y="379.12" width="8.1" height="7.5" fill="#c2c1e3"/>
<rect x="206.70" y="379.12" width="8.1" height="7.5" fill="#c2c1e3"/>
<rect x="216.69" y="379.12" width="8.1" height="7.5" fill="#c2c1e3"/>
<rect x="226.68" y="379.12" width="8.1" height="7.5" fill="#c2c1e3"/>
<rect x="236.67" y="379.12" width="8.1" height="7.5" fill="#c2c1e3"/>
<rect x="246.66" y="379.12" width="8.1" height="7.5" fill="#c2c1e3"/>
<rect x="256.65" y="379.12" width="8.1" height="7.5" fill="#c2c1e3"/>
<rect x="266.64" y="379.12" width="8.1" height="7.5" fill="#c2c1e3"/>
<rect x="276.63" y="379.12" width="8.1" height="7.5" fill="#c2c1e3"/>
<rect x="286.62" y="379.12" width="8.1" height="7.5" fill="#c2c1e3"/>
<rect x="296.61" y="379.12" width="8.1" height="7.5" fill="#c2c1e3"/>
<rect x="306.60" y="379.12" width="8.1" height="7.5" fill="#c2c1e3"/>
<rect x="316.59" y="379.12" width="8.1" height="7.5" fill="#c2c1e3"/>
<rect x="326.58" y="379.12" width="8.1" height="7.5" fill="#c2c1e3"/>
<rect x="336.57" y="379.12" width="8.1" height="7.5" fill="#c2c1e3"/>
<rect x="346.56" y="379.12" width="8.1" height="7.5" fill="#c2c1e3"/>
<rect x="356.55" y="379.12" width="8.1" height="7.5" fill="#c2c1e3"/>
<rect x="366.54" y="379.12" width="8.1" height="7.5" fill="#c2c1e3"/>
<rect x="376.53" y="379.12" width="8.1" height="7.5" fill="#c2c1e3"/>
<rect x="386.52" y="379.12" width="8.1" height="7.5" fill="#c2c1e3"/>
<rect x="396.51" y="379.12" width="8.1" height="7.5" fill="#c2c1e3"/>
<rect x="406.50" y="379.12" width="8.1" height="7.5" fill="#c2c1e3"/>
<rect x="416.49" y="379.12" width="8.1" height="7.5" fill="#c2c1e3"/>
<rect x="426.48" y="379.12" width="8.1" height="7.5" fill="#c2c1e3"/>
<rect x="436.47" y="379.12" width="8.1" height="7.5" fill="#c2c1e3"/>
<rect x="446.46" y="379.12" width="8.1" height="7.5" fill="#c2c1e3"/>
<rect x="456.45" y="379.12" width="8.1" height="7.5" fill="#c2c1e3"/>
<rect x="466.44" y="379.12" width="8.1" height="7.5" fill="#c2c1e3"/>
<rect x="476.43" y="379.12" width="8.1" height="7.5" fill="#c2c1e3"/>
<rect x="486.42" y="379.12" width="8.1" height="7.5" fill="#c2c1e3"/>
<rect x="496.41" y="379.12" width="8.1" height="7.5" fill="#c2c1e3"/>
<rect x="506.40" y="379.12" width="8.1" height="7.5" fill="#c2c1e3"/>
<text x="17.6" y="393.96" font-size="7.5" fill="#222">DL model</text>
<rect x="56.85" y="388.61" width="8.1" height="7.5" fill="#c2c1e3"/>
<rect x="66.84" y="388.61" width="8.1" height="7.5" fill="#8f87c4"/>
<rect x="76.83" y="388.61" width="8.1" height="7.5" fill="#c2c1e3"/>
<rect x="86.82" y="388.61" width="8.1" height="7.5" fill="#c2c1e3"/>
<rect x="96.81" y="388.61" width="8.1" height="7.5" fill="#c2c1e3"/>
<rect x="106.80" y="388.61" width="8.1" height="7.5" fill="#c2c1e3"/>
<rect x="116.79" y="388.61" width="8.1" height="7.5" fill="#c2c1e3"/>
<rect x="126.78" y="388.61" width="8.1" height="7.5" fill="#8f87c4"/>
<rect x="136.77" y="388.61" width="8.1" height="7.5" fill="#c2c1e3"/>
<rect x="146.76" y="388.61" width="8.1" height="7.5" fill="#c2c1e3"/>
<rect x="156.75" y="388.61" width="8.1" height="7.5" fill="#c2c1e3"/>
<rect x="166.74" y="388.61" width="8.1" height="7.5" fill="#c2c1e3"/>
<rect x="176.73" y="388.61" width="8.1" height="7.5" fill="#8f87c4"/>
<rect x="186.72" y="388.61" width="8.1" height="7.5" fill="#c2c1e3"/>
<rect x="196.71" y="388.61" width="8.1" height="7.5" fill="#c2c1e3"/>
<rect x="206.70" y="388.61" width="8.1" height="7.5" fill="#c2c1e3"/>
<rect x="216.69" y="388.61" width="8.1" height="7.5" fill="#c2c1e3"/>
<rect x="226.68" y="388.61" width="8.1" height="7.5" fill="#c2c1e3"/>
<rect x="236.67" y="388.61" width="8.1" height="7.5" fill="#c2c1e3"/>
<rect x="246.66" y="388.61" width="8.1" height="7.5" fill="#3d2a86"/>
<rect x="256.65" y="388.61" width="8.1" height="7.5" fill="#c2c1e3"/>
<rect x="266.64" y="388.61" width="8.1" height="7.5" fill="#c2c1e3"/>
<rect x="276.63" y="388.61" width="8.1" height="7.5" fill="#c2c1e3"/>
<rect x="286.62" y="388.61" width="8.1" height="7.5" fill="#c2c1e3"/>
<rect x="296.61" y="388.61" width="8.1" height="7.5" fill="#c2c1e3"/>
<rect x="306.60" y="388.61" width="8.1" height="7.5" fill="#c2c1e3"/>
<rect x="316.59" y="388.61" width="8.1" height="7.5" fill="#c2c1e3"/>
<rect x="326.58" y="388.61" width="8.1" height="7.5" fill="#c2c1e3"/>
<rect x="336.57" y="388.61" width="8.1" height="7.5" fill="#8f87c4"/>
<rect x="346.56" y="388.61" width="8.1" height="7.5" fill="#8f87c4"/>
<rect x="356.55" y="388.61" width="8.1" height="7.5" fill="#c2c1e3"/>
<rect x="366.54" y="388.61" width="8.1" height="7.5" fill="#c2c1e3"/>
<rect x="376.53" y="388.61" width="8.1" height="7.5" fill="#c2c1e3"/>
<rect x="386.52" y="388.61" width="8.1" height="7.5" fill="#c2c1e3"/>
<rect x="396.51" y="388.61" width="8.1" height="7.5" fill="#c2c1e3"/>
<rect x="406.50" y="388.61" width="8.1" height="7.5" fill="#c2c1e3"/>
<rect x="416.49" y="388.61" width="8.1" height="7.5" fill="#c2c1e3"/>
<rect x="426.48" y="388.61" width="8.1" height="7.5" fill="#c2c1e3"/>
<rect x="436.47" y="388.61" width="8.1" height="7.5" fill="#c2c1e3"/>
<rect x="446.46" y="388.61" width="8.1" height="7.5" fill="#c2c1e3"/>
<rect x="456.45" y="388.61" width="8.1" height="7.5" fill="#c2c1e3"/>
<rect x="466.44" y="388.61" width="8.1" height="7.5" fill="#c2c1e3"/>
<rect x="476.43" y="388.61" width="8.1" height="7.5" fill="#c2c1e3"/>
<rect x="486.42" y="388.61" width="8.1" height="7.5" fill="#3d2a86"/>
<rect x="496.41" y="388.61" width="8.1" height="7.5" fill="#8f87c4"/>
<rect x="506.40" y="388.61" width="8.1" height="7.5" fill="#c2c1e3"/>
<text x="17.6" y="403.45" font-size="7.5" fill="#222">Manual</text>
<rect x="56.85" y="398.10" width="8.1" height="7.5" fill="#c2c1e3"/>
<rect x="66.84" y="398.10" width="8.1" height="7.5" fill="#8f87c4"/>
<rect x="76.83" y="398.10" width="8.1" height="7.5" fill="#8f87c4"/>
<rect x="86.82" y="398.10" width="8.1" height="7.5" fill="#c2c1e3"/>
<rect x="96.81" y="398.10" width="8.1" height="7.5" fill="#c2c1e3"/>
<rect x="106.80" y="398.10" width="8.1" height="7.5" fill="#c2c1e3"/>
<rect x="116.79" y="398.10" width="8.1" height="7.5" fill="#c2c1e3"/>
<rect x="126.78" y="398.10" width="8.1" height="7.5" fill="#c2c1e3"/>
<rect x="136.77" y="398.10" width="8.1" height="7.5" fill="#c2c1e3"/>
<rect x="146.76" y="398.10" width="8.1" height="7.5" fill="#c2c1e3"/>
<rect x="156.75" y="398.10" width="8.1" height="7.5" fill="#c2c1e3"/>
<rect x="166.74" y="398.10" width="8.1" height="7.5" fill="#c2c1e3"/>
<rect x="176.73" y="398.10" width="8.1" height="7.5" fill="#8f87c4"/>
<rect x="186.72" y="398.10" width="8.1" height="7.5" fill="#c2c1e3"/>
<rect x="196.71" y="398.10" width="8.1" height="7.5" fill="#c2c1e3"/>
<rect x="206.70" y="398.10" width="8.1" height="7.5" fill="#c2c1e3"/>
<rect x="216.69" y="398.10" width="8.1" height="7.5" fill="#a29bd1"/>
<rect x="226.68" y="398.10" width="8.1" height="7.5" fill="#c2c1e3"/>
<rect x="236.67" y="398.10" width="8.1" height="7.5" fill="#c2c1e3"/>
<rect x="246.66" y="398.10" width="8.1" height="7.5" fill="#c2c1e3"/>
<rect x="256.65" y="398.10" width="8.1" height="7.5" fill="#756bb4"/>
<rect x="266.64" y="398.10" width="8.1" height="7.5" fill="#c2c1e3"/>
<rect x="276.63" y="398.10" width="8.1" height="7.5" fill="#c2c1e3"/>
<rect x="286.62" y="398.10" width="8.1" height="7.5" fill="#8f87c4"/>
<rect x="296.61" y="398.10" width="8.1" height="7.5" fill="#756bb4"/>
<rect x="306.60" y="398.10" width="8.1" height="7.5" fill="#c2c1e3"/>
<rect x="316.59" y="398.10" width="8.1" height="7.5" fill="#c2c1e3"/>
<rect x="326.58" y="398.10" width="8.1" height="7.5" fill="#c2c1e3"/>
<rect x="336.57" y="398.10" width="8.1" height="7.5" fill="#c2c1e3"/>
<rect x="346.56" y="398.10" width="8.1" height="7.5" fill="#c2c1e3"/>
<rect x="356.55" y="398.10" width="8.1" height="7.5" fill="#c2c1e3"/>
<rect x="366.54" y="398.10" width="8.1" height="7.5" fill="#c2c1e3"/>
<rect x="376.53" y="398.10" width="8.1" height="7.5" fill="#c2c1e3"/>
<rect x="386.52" y="398.10" width="8.1" height="7.5" fill="#c2c1e3"/>
<rect x="396.51" y="398.10" width="8.1" height="7.5" fill="#c2c1e3"/>
<rect x="406.50" y="398.10" width="8.1" height="7.5" fill="#c2c1e3"/>
<rect x="416.49" y="398.10" width="8.1" height="7.5" fill="#c2c1e3"/>
<rect x="426.48" y="398.10" width="8.1" height="7.5" fill="#c2c1e3"/>
<rect x="436.47" y="398.10" width="8.1" height="7.5" fill="#c2c1e3"/>
<rect x="446.46" y="398.10" width="8.1" height="7.5" fill="#c2c1e3"/>
<rect x="456.45" y="398.10" width="8.1" height="7.5" fill="#c2c1e3"/>
<rect x="466.44" y="398.10" width="8.1" height="7.5" fill="#c2c1e3"/>
<rect x="476.43" y="398.10" width="8.1" height="7.5" fill="#c2c1e3"/>
<rect x="486.42" y="398.10" width="8.1" height="7.5" fill="#3d2a86"/>
<rect x="496.41" y="398.10" width="8.1" height="7.5" fill="#c2c1e3"/>
<rect x="506.40" y="398.10" width="8.1" height="7.5" fill="#c2c1e3"/>
<text x="11.6" y="423.85" font-size="7.5" fill="#222">Patient</text>
<text x="61.30" y="424.05" font-size="6.7" fill="#222" text-anchor="middle">47</text>
<text x="71.29" y="424.05" font-size="6.7" fill="#222" text-anchor="middle">48</text>
<text x="81.28" y="424.05" font-size="6.7" fill="#222" text-anchor="middle">49</text>
<text x="91.27" y="424.05" font-size="6.7" fill="#222" text-anchor="middle">50</text>
<text x="101.26" y="424.05" font-size="6.7" fill="#222" text-anchor="middle">51</text>
<text x="111.25" y="424.05" font-size="6.7" fill="#222" text-anchor="middle">52</text>
<text x="121.24" y="424.05" font-size="6.7" fill="#222" text-anchor="middle">53</text>
<text x="131.23" y="424.05" font-size="6.7" fill="#222" text-anchor="middle">54</text>
<text x="141.22" y="424.05" font-size="6.7" fill="#222" text-anchor="middle">55</text>
<text x="151.21" y="424.05" font-size="6.7" fill="#222" text-anchor="middle">56</text>
<text x="161.20" y="424.05" font-size="6.7" fill="#222" text-anchor="middle">57</text>
<text x="171.19" y="424.05" font-size="6.7" fill="#222" text-anchor="middle">58</text>
<text x="181.18" y="424.05" font-size="6.7" fill="#222" text-anchor="middle">59</text>
<text x="191.17" y="424.05" font-size="6.7" fill="#222" text-anchor="middle">60</text>
<text x="201.16" y="424.05" font-size="6.7" fill="#222" text-anchor="middle">61</text>
<text x="211.15" y="424.05" font-size="6.7" fill="#222" text-anchor="middle">62</text>
<text x="221.14" y="424.05" font-size="6.7" fill="#222" text-anchor="middle">63</text>
<text x="231.13" y="424.05" font-size="6.7" fill="#222" text-anchor="middle">64</text>
<text x="241.12" y="424.05" font-size="6.7" fill="#222" text-anchor="middle">65</text>
<text x="251.11" y="424.05" font-size="6.7" fill="#222" text-anchor="middle">66</text>
<text x="261.10" y="424.05" font-size="6.7" fill="#222" text-anchor="middle">67</text>
<text x="271.09" y="424.05" font-size="6.7" fill="#222" text-anchor="middle">68</text>
<text x="281.08" y="424.05" font-size="6.7" fill="#222" text-anchor="middle">69</text>
<text x="291.07" y="424.05" font-size="6.7" fill="#222" text-anchor="middle">70</text>
<text x="301.06" y="424.05" font-size="6.7" fill="#222" text-anchor="middle">71</text>
<text x="311.05" y="424.05" font-size="6.7" fill="#222" text-anchor="middle">72</text>
<text x="321.04" y="424.05" font-size="6.7" fill="#222" text-anchor="middle">73</text>
<text x="331.03" y="424.05" font-size="6.7" fill="#222" text-anchor="middle">74</text>
<text x="341.02" y="424.05" font-size="6.7" fill="#222" text-anchor="middle">75</text>
<text x="351.01" y="424.05" font-size="6.7" fill="#222" text-anchor="middle">76</text>
<text x="361.00" y="424.05" font-size="6.7" fill="#222" text-anchor="middle">77</text>
<text x="370.99" y="424.05" font-size="6.7" fill="#222" text-anchor="middle">78</text>
<text x="380.98" y="424.05" font-size="6.7" fill="#222" text-anchor="middle">79</text>
<text x="390.97" y="424.05" font-size="6.7" fill="#222" text-anchor="middle">80</text>
<text x="400.96" y="424.05" font-size="6.7" fill="#222" text-anchor="middle">81</text>
<text x="410.95" y="424.05" font-size="6.7" fill="#222" text-anchor="middle">82</text>
<text x="420.94" y="424.05" font-size="6.7" fill="#222" text-anchor="middle">83</text>
<text x="430.93" y="424.05" font-size="6.7" fill="#222" text-anchor="middle">84</text>
<text x="440.92" y="424.05" font-size="6.7" fill="#222" text-anchor="middle">85</text>
<text x="450.91" y="424.05" font-size="6.7" fill="#222" text-anchor="middle">86</text>
<text x="460.90" y="424.05" font-size="6.7" fill="#222" text-anchor="middle">87</text>
<text x="470.89" y="424.05" font-size="6.7" fill="#222" text-anchor="middle">88</text>
<text x="480.88" y="424.05" font-size="6.7" fill="#222" text-anchor="middle">89</text>
<text x="490.87" y="424.05" font-size="6.7" fill="#222" text-anchor="middle">90</text>
<text x="500.86" y="424.05" font-size="6.7" fill="#222" text-anchor="middle">91</text>
<text x="510.85" y="424.05" font-size="6.7" fill="#222" text-anchor="middle">92</text>
<line x1="56.3" y1="426.10" x2="515" y2="426.10" stroke="#222" stroke-width="1.3"/>
<text x="11.6" y="433.80" font-size="7.5" fill="#222">Best overall response</text>
<text x="17.6" y="442.85" font-size="7.5" fill="#222">RECIST</text>
<rect x="56.85" y="437.10" width="8.1" height="7.5" fill="#c2c1e3"/>
<rect x="66.84" y="437.10" width="8.1" height="7.5" fill="#c2c1e3"/>
<rect x="76.83" y="437.10" width="8.1" height="7.5" fill="#c2c1e3"/>
<rect x="86.82" y="437.10" width="8.1" height="7.5" fill="#c2c1e3"/>
<rect x="96.81" y="437.10" width="8.1" height="7.5" fill="#c2c1e3"/>
<rect x="106.80" y="437.10" width="8.1" height="7.5" fill="#c2c1e3"/>
<rect x="116.79" y="437.10" width="8.1" height="7.5" fill="#c2c1e3"/>
<rect x="126.78" y="437.10" width="8.1" height="7.5" fill="#c2c1e3"/>
<rect x="136.77" y="437.10" width="8.1" height="7.5" fill="#c2c1e3"/>
<rect x="146.76" y="437.10" width="8.1" height="7.5" fill="#c2c1e3"/>
<rect x="156.75" y="437.10" width="8.1" height="7.5" fill="#c2c1e3"/>
<rect x="166.74" y="437.10" width="8.1" height="7.5" fill="#c2c1e3"/>
<rect x="176.73" y="437.10" width="8.1" height="7.5" fill="#c2c1e3"/>
<rect x="186.72" y="437.10" width="8.1" height="7.5" fill="#c2c1e3"/>
<rect x="196.71" y="437.10" width="8.1" height="7.5" fill="#c2c1e3"/>
<rect x="206.70" y="437.10" width="8.1" height="7.5" fill="#c2c1e3"/>
<rect x="216.69" y="437.10" width="8.1" height="7.5" fill="#c2c1e3"/>
<rect x="226.68" y="437.10" width="8.1" height="7.5" fill="#c2c1e3"/>
<rect x="236.67" y="437.10" width="8.1" height="7.5" fill="#c2c1e3"/>
<rect x="246.66" y="437.10" width="8.1" height="7.5" fill="#c2c1e3"/>
<rect x="256.65" y="437.10" width="8.1" height="7.5" fill="#c2c1e3"/>
<rect x="266.64" y="437.10" width="8.1" height="7.5" fill="#c2c1e3"/>
<rect x="276.63" y="437.10" width="8.1" height="7.5" fill="#c2c1e3"/>
<rect x="286.62" y="437.10" width="8.1" height="7.5" fill="#c2c1e3"/>
<rect x="296.61" y="437.10" width="8.1" height="7.5" fill="#c2c1e3"/>
<rect x="306.60" y="437.10" width="8.1" height="7.5" fill="#c2c1e3"/>
<rect x="316.59" y="437.10" width="8.1" height="7.5" fill="#c2c1e3"/>
<rect x="326.58" y="437.10" width="8.1" height="7.5" fill="#c2c1e3"/>
<rect x="336.57" y="437.10" width="8.1" height="7.5" fill="#c2c1e3"/>
<rect x="346.56" y="437.10" width="8.1" height="7.5" fill="#c2c1e3"/>
<rect x="356.55" y="437.10" width="8.1" height="7.5" fill="#c2c1e3"/>
<rect x="366.54" y="437.10" width="8.1" height="7.5" fill="#c2c1e3"/>
<rect x="376.53" y="437.10" width="8.1" height="7.5" fill="#c2c1e3"/>
<rect x="386.52" y="437.10" width="8.1" height="7.5" fill="#c2c1e3"/>
<rect x="396.51" y="437.10" width="8.1" height="7.5" fill="#c2c1e3"/>
<rect x="406.50" y="437.10" width="8.1" height="7.5" fill="#c2c1e3"/>
<rect x="416.49" y="437.10" width="8.1" height="7.5" fill="#c2c1e3"/>
<rect x="426.48" y="437.10" width="8.1" height="7.5" fill="#c2c1e3"/>
<rect x="436.47" y="437.10" width="8.1" height="7.5" fill="#c2c1e3"/>
<rect x="446.46" y="437.10" width="8.1" height="7.5" fill="#c2c1e3"/>
<rect x="456.45" y="437.10" width="8.1" height="7.5" fill="#c2c1e3"/>
<rect x="466.44" y="437.10" width="8.1" height="7.5" fill="#c2c1e3"/>
<rect x="476.43" y="437.10" width="8.1" height="7.5" fill="#c2c1e3"/>
<rect x="486.42" y="437.10" width="8.1" height="7.5" fill="#c2c1e3"/>
<rect x="496.41" y="437.10" width="8.1" height="7.5" fill="#c2c1e3"/>
<rect x="506.40" y="437.10" width="8.1" height="7.5" fill="#c2c1e3"/>
<text x="17.6" y="452.40" font-size="7.5" fill="#222">DL model</text>
<rect x="56.85" y="446.65" width="8.1" height="7.5" fill="#c2c1e3"/>
<rect x="66.84" y="446.65" width="8.1" height="7.5" fill="#c2c1e3"/>
<rect x="76.83" y="446.65" width="8.1" height="7.5" fill="#c2c1e3"/>
<rect x="86.82" y="446.65" width="8.1" height="7.5" fill="#c2c1e3"/>
<rect x="96.81" y="446.65" width="8.1" height="7.5" fill="#c2c1e3"/>
<rect x="106.80" y="446.65" width="8.1" height="7.5" fill="#c2c1e3"/>
<rect x="116.79" y="446.65" width="8.1" height="7.5" fill="#c2c1e3"/>
<rect x="126.78" y="446.65" width="8.1" height="7.5" fill="#c2c1e3"/>
<rect x="136.77" y="446.65" width="8.1" height="7.5" fill="#c2c1e3"/>
<rect x="146.76" y="446.65" width="8.1" height="7.5" fill="#5e4aa2"/>
<rect x="156.75" y="446.65" width="8.1" height="7.5" fill="#c2c1e3"/>
<rect x="166.74" y="446.65" width="8.1" height="7.5" fill="#c2c1e3"/>
<rect x="176.73" y="446.65" width="8.1" height="7.5" fill="#5e4aa2"/>
<rect x="186.72" y="446.65" width="8.1" height="7.5" fill="#c2c1e3"/>
<rect x="196.71" y="446.65" width="8.1" height="7.5" fill="#c2c1e3"/>
<rect x="206.70" y="446.65" width="8.1" height="7.5" fill="#c2c1e3"/>
<rect x="216.69" y="446.65" width="8.1" height="7.5" fill="#c2c1e3"/>
<rect x="226.68" y="446.65" width="8.1" height="7.5" fill="#5e4aa2"/>
<rect x="236.67" y="446.65" width="8.1" height="7.5" fill="#c2c1e3"/>
<rect x="246.66" y="446.65" width="8.1" height="7.5" fill="#c2c1e3"/>
<rect x="256.65" y="446.65" width="8.1" height="7.5" fill="#c2c1e3"/>
<rect x="266.64" y="446.65" width="8.1" height="7.5" fill="#c2c1e3"/>
<rect x="276.63" y="446.65" width="8.1" height="7.5" fill="#c2c1e3"/>
<rect x="286.62" y="446.65" width="8.1" height="7.5" fill="#c2c1e3"/>
<rect x="296.61" y="446.65" width="8.1" height="7.5" fill="#c2c1e3"/>
<rect x="306.60" y="446.65" width="8.1" height="7.5" fill="#5e4aa2"/>
<rect x="316.59" y="446.65" width="8.1" height="7.5" fill="#c2c1e3"/>
<rect x="326.58" y="446.65" width="8.1" height="7.5" fill="#c2c1e3"/>
<rect x="336.57" y="446.65" width="8.1" height="7.5" fill="#c2c1e3"/>
<rect x="346.56" y="446.65" width="8.1" height="7.5" fill="#c2c1e3"/>
<rect x="356.55" y="446.65" width="8.1" height="7.5" fill="#c2c1e3"/>
<rect x="366.54" y="446.65" width="8.1" height="7.5" fill="#c2c1e3"/>
<rect x="376.53" y="446.65" width="8.1" height="7.5" fill="#c2c1e3"/>
<rect x="386.52" y="446.65" width="8.1" height="7.5" fill="#c2c1e3"/>
<rect x="396.51" y="446.65" width="8.1" height="7.5" fill="#c2c1e3"/>
<rect x="406.50" y="446.65" width="8.1" height="7.5" fill="#c2c1e3"/>
<rect x="416.49" y="446.65" width="8.1" height="7.5" fill="#c2c1e3"/>
<rect x="426.48" y="446.65" width="8.1" height="7.5" fill="#c2c1e3"/>
<rect x="436.47" y="446.65" width="8.1" height="7.5" fill="#c2c1e3"/>
<rect x="446.46" y="446.65" width="8.1" height="7.5" fill="#c2c1e3"/>
<rect x="456.45" y="446.65" width="8.1" height="7.5" fill="#c2c1e3"/>
<rect x="466.44" y="446.65" width="8.1" height="7.5" fill="#c2c1e3"/>
<rect x="476.43" y="446.65" width="8.1" height="7.5" fill="#c2c1e3"/>
<rect x="486.42" y="446.65" width="8.1" height="7.5" fill="#c2c1e3"/>
<rect x="496.41" y="446.65" width="8.1" height="7.5" fill="#c2c1e3"/>
<rect x="506.40" y="446.65" width="8.1" height="7.5" fill="#c2c1e3"/>
<text x="17.6" y="461.95" font-size="7.5" fill="#222">Manual</text>
<rect x="56.85" y="456.20" width="8.1" height="7.5" fill="#c2c1e3"/>
<rect x="66.84" y="456.20" width="8.1" height="7.5" fill="#5e4aa2"/>
<rect x="76.83" y="456.20" width="8.1" height="7.5" fill="#c2c1e3"/>
<rect x="86.82" y="456.20" width="8.1" height="7.5" fill="#c2c1e3"/>
<rect x="96.81" y="456.20" width="8.1" height="7.5" fill="#c2c1e3"/>
<rect x="106.80" y="456.20" width="8.1" height="7.5" fill="#c2c1e3"/>
<rect x="116.79" y="456.20" width="8.1" height="7.5" fill="#c2c1e3"/>
<rect x="126.78" y="456.20" width="8.1" height="7.5" fill="#c2c1e3"/>
<rect x="136.77" y="456.20" width="8.1" height="7.5" fill="#c2c1e3"/>
<rect x="146.76" y="456.20" width="8.1" height="7.5" fill="#c2c1e3"/>
<rect x="156.75" y="456.20" width="8.1" height="7.5" fill="#c2c1e3"/>
<rect x="166.74" y="456.20" width="8.1" height="7.5" fill="#c2c1e3"/>
<rect x="176.73" y="456.20" width="8.1" height="7.5" fill="#c2c1e3"/>
<rect x="186.72" y="456.20" width="8.1" height="7.5" fill="#c2c1e3"/>
<rect x="196.71" y="456.20" width="8.1" height="7.5" fill="#c2c1e3"/>
<rect x="206.70" y="456.20" width="8.1" height="7.5" fill="#c2c1e3"/>
<rect x="216.69" y="456.20" width="8.1" height="7.5" fill="#c2c1e3"/>
<rect x="226.68" y="456.20" width="8.1" height="7.5" fill="#c2c1e3"/>
<rect x="236.67" y="456.20" width="8.1" height="7.5" fill="#c2c1e3"/>
<rect x="246.66" y="456.20" width="8.1" height="7.5" fill="#c2c1e3"/>
<rect x="256.65" y="456.20" width="8.1" height="7.5" fill="#c2c1e3"/>
<rect x="266.64" y="456.20" width="8.1" height="7.5" fill="#c2c1e3"/>
<rect x="276.63" y="456.20" width="8.1" height="7.5" fill="#c2c1e3"/>
<rect x="286.62" y="456.20" width="8.1" height="7.5" fill="#c2c1e3"/>
<rect x="296.61" y="456.20" width="8.1" height="7.5" fill="#c2c1e3"/>
<rect x="306.60" y="456.20" width="8.1" height="7.5" fill="#c2c1e3"/>
<rect x="316.59" y="456.20" width="8.1" height="7.5" fill="#c2c1e3"/>
<rect x="326.58" y="456.20" width="8.1" height="7.5" fill="#c2c1e3"/>
<rect x="336.57" y="456.20" width="8.1" height="7.5" fill="#c2c1e3"/>
<rect x="346.56" y="456.20" width="8.1" height="7.5" fill="#c2c1e3"/>
<rect x="356.55" y="456.20" width="8.1" height="7.5" fill="#5e4aa2"/>
<rect x="366.54" y="456.20" width="8.1" height="7.5" fill="#5e4aa2"/>
<rect x="376.53" y="456.20" width="8.1" height="7.5" fill="#c2c1e3"/>
<rect x="386.52" y="456.20" width="8.1" height="7.5" fill="#c2c1e3"/>
<rect x="396.51" y="456.20" width="8.1" height="7.5" fill="#c2c1e3"/>
<rect x="406.50" y="456.20" width="8.1" height="7.5" fill="#c2c1e3"/>
<rect x="416.49" y="456.20" width="8.1" height="7.5" fill="#c2c1e3"/>
<rect x="426.48" y="456.20" width="8.1" height="7.5" fill="#c2c1e3"/>
<rect x="436.47" y="456.20" width="8.1" height="7.5" fill="#c2c1e3"/>
<rect x="446.46" y="456.20" width="8.1" height="7.5" fill="#c2c1e3"/>
<rect x="456.45" y="456.20" width="8.1" height="7.5" fill="#c2c1e3"/>
<rect x="466.44" y="456.20" width="8.1" height="7.5" fill="#c2c1e3"/>
<rect x="476.43" y="456.20" width="8.1" height="7.5" fill="#c2c1e3"/>
<rect x="486.42" y="456.20" width="8.1" height="7.5" fill="#c2c1e3"/>
<rect x="496.41" y="456.20" width="8.1" height="7.5" fill="#c2c1e3"/>
<rect x="506.40" y="456.20" width="8.1" height="7.5" fill="#c2c1e3"/>
<text x="11.6" y="472.00" font-size="7.5" fill="#222">Progression at any time</text>
<text x="17.6" y="481.05" font-size="7.5" fill="#222">RECIST</text>
<rect x="56.85" y="475.30" width="8.1" height="7.5" fill="#c2c1e3"/>
<rect x="66.84" y="475.30" width="8.1" height="7.5" fill="#c2c1e3"/>
<rect x="76.83" y="475.30" width="8.1" height="7.5" fill="#c2c1e3"/>
<rect x="86.82" y="475.30" width="8.1" height="7.5" fill="#c2c1e3"/>
<rect x="96.81" y="475.30" width="8.1" height="7.5" fill="#c2c1e3"/>
<rect x="106.80" y="475.30" width="8.1" height="7.5" fill="#c2c1e3"/>
<rect x="116.79" y="475.30" width="8.1" height="7.5" fill="#c2c1e3"/>
<rect x="126.78" y="475.30" width="8.1" height="7.5" fill="#c2c1e3"/>
<rect x="136.77" y="475.30" width="8.1" height="7.5" fill="#c2c1e3"/>
<rect x="146.76" y="475.30" width="8.1" height="7.5" fill="#c2c1e3"/>
<rect x="156.75" y="475.30" width="8.1" height="7.5" fill="#c2c1e3"/>
<rect x="166.74" y="475.30" width="8.1" height="7.5" fill="#c2c1e3"/>
<rect x="176.73" y="475.30" width="8.1" height="7.5" fill="#c2c1e3"/>
<rect x="186.72" y="475.30" width="8.1" height="7.5" fill="#c2c1e3"/>
<rect x="196.71" y="475.30" width="8.1" height="7.5" fill="#c2c1e3"/>
<rect x="206.70" y="475.30" width="8.1" height="7.5" fill="#c2c1e3"/>
<rect x="216.69" y="475.30" width="8.1" height="7.5" fill="#c2c1e3"/>
<rect x="226.68" y="475.30" width="8.1" height="7.5" fill="#c2c1e3"/>
<rect x="236.67" y="475.30" width="8.1" height="7.5" fill="#c2c1e3"/>
<rect x="246.66" y="475.30" width="8.1" height="7.5" fill="#c2c1e3"/>
<rect x="256.65" y="475.30" width="8.1" height="7.5" fill="#c2c1e3"/>
<rect x="266.64" y="475.30" width="8.1" height="7.5" fill="#c2c1e3"/>
<rect x="276.63" y="475.30" width="8.1" height="7.5" fill="#c2c1e3"/>
<rect x="286.62" y="475.30" width="8.1" height="7.5" fill="#c2c1e3"/>
<rect x="296.61" y="475.30" width="8.1" height="7.5" fill="#c2c1e3"/>
<rect x="306.60" y="475.30" width="8.1" height="7.5" fill="#c2c1e3"/>
<rect x="316.59" y="475.30" width="8.1" height="7.5" fill="#c2c1e3"/>
<rect x="326.58" y="475.30" width="8.1" height="7.5" fill="#c2c1e3"/>
<rect x="336.57" y="475.30" width="8.1" height="7.5" fill="#c2c1e3"/>
<rect x="346.56" y="475.30" width="8.1" height="7.5" fill="#c2c1e3"/>
<rect x="356.55" y="475.30" width="8.1" height="7.5" fill="#c2c1e3"/>
<rect x="366.54" y="475.30" width="8.1" height="7.5" fill="#c2c1e3"/>
<rect x="376.53" y="475.30" width="8.1" height="7.5" fill="#c2c1e3"/>
<rect x="386.52" y="475.30" width="8.1" height="7.5" fill="#c2c1e3"/>
<rect x="396.51" y="475.30" width="8.1" height="7.5" fill="#c2c1e3"/>
<rect x="406.50" y="475.30" width="8.1" height="7.5" fill="#c2c1e3"/>
<rect x="416.49" y="475.30" width="8.1" height="7.5" fill="#c2c1e3"/>
<rect x="426.48" y="475.30" width="8.1" height="7.5" fill="#c2c1e3"/>
<rect x="436.47" y="475.30" width="8.1" height="7.5" fill="#c2c1e3"/>
<rect x="446.46" y="475.30" width="8.1" height="7.5" fill="#c2c1e3"/>
<rect x="456.45" y="475.30" width="8.1" height="7.5" fill="#c2c1e3"/>
<rect x="466.44" y="475.30" width="8.1" height="7.5" fill="#c2c1e3"/>
<rect x="476.43" y="475.30" width="8.1" height="7.5" fill="#c2c1e3"/>
<rect x="486.42" y="475.30" width="8.1" height="7.5" fill="#c2c1e3"/>
<rect x="496.41" y="475.30" width="8.1" height="7.5" fill="#c2c1e3"/>
<rect x="506.40" y="475.30" width="8.1" height="7.5" fill="#c2c1e3"/>
<text x="17.6" y="490.60" font-size="7.5" fill="#222">DL model</text>
<rect x="56.85" y="484.85" width="8.1" height="7.5" fill="#c2c1e3"/>
<rect x="66.84" y="484.85" width="8.1" height="7.5" fill="#c2c1e3"/>
<rect x="76.83" y="484.85" width="8.1" height="7.5" fill="#c2c1e3"/>
<rect x="86.82" y="484.85" width="8.1" height="7.5" fill="#c2c1e3"/>
<rect x="96.81" y="484.85" width="8.1" height="7.5" fill="#5e4aa2"/>
<rect x="106.80" y="484.85" width="8.1" height="7.5" fill="#c2c1e3"/>
<rect x="116.79" y="484.85" width="8.1" height="7.5" fill="#c2c1e3"/>
<rect x="126.78" y="484.85" width="8.1" height="7.5" fill="#c2c1e3"/>
<rect x="136.77" y="484.85" width="8.1" height="7.5" fill="#c2c1e3"/>
<rect x="146.76" y="484.85" width="8.1" height="7.5" fill="#c2c1e3"/>
<rect x="156.75" y="484.85" width="8.1" height="7.5" fill="#c2c1e3"/>
<rect x="166.74" y="484.85" width="8.1" height="7.5" fill="#c2c1e3"/>
<rect x="176.73" y="484.85" width="8.1" height="7.5" fill="#5e4aa2"/>
<rect x="186.72" y="484.85" width="8.1" height="7.5" fill="#c2c1e3"/>
<rect x="196.71" y="484.85" width="8.1" height="7.5" fill="#c2c1e3"/>
<rect x="206.70" y="484.85" width="8.1" height="7.5" fill="#c2c1e3"/>
<rect x="216.69" y="484.85" width="8.1" height="7.5" fill="#c2c1e3"/>
<rect x="226.68" y="484.85" width="8.1" height="7.5" fill="#5e4aa2"/>
<rect x="236.67" y="484.85" width="8.1" height="7.5" fill="#c2c1e3"/>
<rect x="246.66" y="484.85" width="8.1" height="7.5" fill="#c2c1e3"/>
<rect x="256.65" y="484.85" width="8.1" height="7.5" fill="#c2c1e3"/>
<rect x="266.64" y="484.85" width="8.1" height="7.5" fill="#c2c1e3"/>
<rect x="276.63" y="484.85" width="8.1" height="7.5" fill="#c2c1e3"/>
<rect x="286.62" y="484.85" width="8.1" height="7.5" fill="#c2c1e3"/>
<rect x="296.61" y="484.85" width="8.1" height="7.5" fill="#c2c1e3"/>
<rect x="306.60" y="484.85" width="8.1" height="7.5" fill="#c2c1e3"/>
<rect x="316.59" y="484.85" width="8.1" height="7.5" fill="#c2c1e3"/>
<rect x="326.58" y="484.85" width="8.1" height="7.5" fill="#c2c1e3"/>
<rect x="336.57" y="484.85" width="8.1" height="7.5" fill="#c2c1e3"/>
<rect x="346.56" y="484.85" width="8.1" height="7.5" fill="#c2c1e3"/>
<rect x="356.55" y="484.85" width="8.1" height="7.5" fill="#c2c1e3"/>
<rect x="366.54" y="484.85" width="8.1" height="7.5" fill="#c2c1e3"/>
<rect x="376.53" y="484.85" width="8.1" height="7.5" fill="#c2c1e3"/>
<rect x="386.52" y="484.85" width="8.1" height="7.5" fill="#c2c1e3"/>
<rect x="396.51" y="484.85" width="8.1" height="7.5" fill="#c2c1e3"/>
<rect x="406.50" y="484.85" width="8.1" height="7.5" fill="#c2c1e3"/>
<rect x="416.49" y="484.85" width="8.1" height="7.5" fill="#c2c1e3"/>
<rect x="426.48" y="484.85" width="8.1" height="7.5" fill="#c2c1e3"/>
<rect x="436.47" y="484.85" width="8.1" height="7.5" fill="#c2c1e3"/>
<rect x="446.46" y="484.85" width="8.1" height="7.5" fill="#c2c1e3"/>
<rect x="456.45" y="484.85" width="8.1" height="7.5" fill="#c2c1e3"/>
<rect x="466.44" y="484.85" width="8.1" height="7.5" fill="#c2c1e3"/>
<rect x="476.43" y="484.85" width="8.1" height="7.5" fill="#5e4aa2"/>
<rect x="486.42" y="484.85" width="8.1" height="7.5" fill="#c2c1e3"/>
<rect x="496.41" y="484.85" width="8.1" height="7.5" fill="#c2c1e3"/>
<rect x="506.40" y="484.85" width="8.1" height="7.5" fill="#c2c1e3"/>
<text x="17.6" y="500.15" font-size="7.5" fill="#222">Manual</text>
<rect x="56.85" y="494.40" width="8.1" height="7.5" fill="#c2c1e3"/>
<rect x="66.84" y="494.40" width="8.1" height="7.5" fill="#c2c1e3"/>
<rect x="76.83" y="494.40" width="8.1" height="7.5" fill="#c2c1e3"/>
<rect x="86.82" y="494.40" width="8.1" height="7.5" fill="#c2c1e3"/>
<rect x="96.81" y="494.40" width="8.1" height="7.5" fill="#c2c1e3"/>
<rect x="106.80" y="494.40" width="8.1" height="7.5" fill="#c2c1e3"/>
<rect x="116.79" y="494.40" width="8.1" height="7.5" fill="#c2c1e3"/>
<rect x="126.78" y="494.40" width="8.1" height="7.5" fill="#c2c1e3"/>
<rect x="136.77" y="494.40" width="8.1" height="7.5" fill="#c2c1e3"/>
<rect x="146.76" y="494.40" width="8.1" height="7.5" fill="#c2c1e3"/>
<rect x="156.75" y="494.40" width="8.1" height="7.5" fill="#c2c1e3"/>
<rect x="166.74" y="494.40" width="8.1" height="7.5" fill="#c2c1e3"/>
<rect x="176.73" y="494.40" width="8.1" height="7.5" fill="#5e4aa2"/>
<rect x="186.72" y="494.40" width="8.1" height="7.5" fill="#c2c1e3"/>
<rect x="196.71" y="494.40" width="8.1" height="7.5" fill="#c2c1e3"/>
<rect x="206.70" y="494.40" width="8.1" height="7.5" fill="#c2c1e3"/>
<rect x="216.69" y="494.40" width="8.1" height="7.5" fill="#c2c1e3"/>
<rect x="226.68" y="494.40" width="8.1" height="7.5" fill="#c2c1e3"/>
<rect x="236.67" y="494.40" width="8.1" height="7.5" fill="#c2c1e3"/>
<rect x="246.66" y="494.40" width="8.1" height="7.5" fill="#c2c1e3"/>
<rect x="256.65" y="494.40" width="8.1" height="7.5" fill="#c2c1e3"/>
<rect x="266.64" y="494.40" width="8.1" height="7.5" fill="#c2c1e3"/>
<rect x="276.63" y="494.40" width="8.1" height="7.5" fill="#c2c1e3"/>
<rect x="286.62" y="494.40" width="8.1" height="7.5" fill="#c2c1e3"/>
<rect x="296.61" y="494.40" width="8.1" height="7.5" fill="#c2c1e3"/>
<rect x="306.60" y="494.40" width="8.1" height="7.5" fill="#c2c1e3"/>
<rect x="316.59" y="494.40" width="8.1" height="7.5" fill="#c2c1e3"/>
<rect x="326.58" y="494.40" width="8.1" height="7.5" fill="#c2c1e3"/>
<rect x="336.57" y="494.40" width="8.1" height="7.5" fill="#c2c1e3"/>
<rect x="346.56" y="494.40" width="8.1" height="7.5" fill="#5e4aa2"/>
<rect x="356.55" y="494.40" width="8.1" height="7.5" fill="#c2c1e3"/>
<rect x="366.54" y="494.40" width="8.1" height="7.5" fill="#5e4aa2"/>
<rect x="376.53" y="494.40" width="8.1" height="7.5" fill="#c2c1e3"/>
<rect x="386.52" y="494.40" width="8.1" height="7.5" fill="#c2c1e3"/>
<rect x="396.51" y="494.40" width="8.1" height="7.5" fill="#c2c1e3"/>
<rect x="406.50" y="494.40" width="8.1" height="7.5" fill="#c2c1e3"/>
<rect x="416.49" y="494.40" width="8.1" height="7.5" fill="#c2c1e3"/>
<rect x="426.48" y="494.40" width="8.1" height="7.5" fill="#c2c1e3"/>
<rect x="436.47" y="494.40" width="8.1" height="7.5" fill="#c2c1e3"/>
<rect x="446.46" y="494.40" width="8.1" height="7.5" fill="#c2c1e3"/>
<rect x="456.45" y="494.40" width="8.1" height="7.5" fill="#c2c1e3"/>
<rect x="466.44" y="494.40" width="8.1" height="7.5" fill="#c2c1e3"/>
<rect x="476.43" y="494.40" width="8.1" height="7.5" fill="#c2c1e3"/>
<rect x="486.42" y="494.40" width="8.1" height="7.5" fill="#c2c1e3"/>
<rect x="496.41" y="494.40" width="8.1" height="7.5" fill="#c2c1e3"/>
<rect x="506.40" y="494.40" width="8.1" height="7.5" fill="#c2c1e3"/>
<text x="11.6" y="510.20" font-size="7.5" fill="#222">Progression free survival</text>
<text x="17.6" y="519.25" font-size="7.5" fill="#222">RECIST</text>
<rect x="56.85" y="513.50" width="8.1" height="7.5" fill="#c2c1e3"/>
<rect x="66.84" y="513.50" width="8.1" height="7.5" fill="#c2c1e3"/>
<rect x="76.83" y="513.50" width="8.1" height="7.5" fill="#c2c1e3"/>
<rect x="86.82" y="513.50" width="8.1" height="7.5" fill="#c2c1e3"/>
<rect x="96.81" y="513.50" width="8.1" height="7.5" fill="#c2c1e3"/>
<rect x="106.80" y="513.50" width="8.1" height="7.5" fill="#c2c1e3"/>
<rect x="116.79" y="513.50" width="8.1" height="7.5" fill="#c2c1e3"/>
<rect x="126.78" y="513.50" width="8.1" height="7.5" fill="#c2c1e3"/>
<rect x="136.77" y="513.50" width="8.1" height="7.5" fill="#c2c1e3"/>
<rect x="146.76" y="513.50" width="8.1" height="7.5" fill="#c2c1e3"/>
<rect x="156.75" y="513.50" width="8.1" height="7.5" fill="#c2c1e3"/>
<rect x="166.74" y="513.50" width="8.1" height="7.5" fill="#c2c1e3"/>
<rect x="176.73" y="513.50" width="8.1" height="7.5" fill="#c2c1e3"/>
<rect x="186.72" y="513.50" width="8.1" height="7.5" fill="#c2c1e3"/>
<rect x="196.71" y="513.50" width="8.1" height="7.5" fill="#c2c1e3"/>
<rect x="206.70" y="513.50" width="8.1" height="7.5" fill="#c2c1e3"/>
<rect x="216.69" y="513.50" width="8.1" height="7.5" fill="#c2c1e3"/>
<rect x="226.68" y="513.50" width="8.1" height="7.5" fill="#c2c1e3"/>
<rect x="236.67" y="513.50" width="8.1" height="7.5" fill="#c2c1e3"/>
<rect x="246.66" y="513.50" width="8.1" height="7.5" fill="#c2c1e3"/>
<rect x="256.65" y="513.50" width="8.1" height="7.5" fill="#c2c1e3"/>
<rect x="266.64" y="513.50" width="8.1" height="7.5" fill="#c2c1e3"/>
<rect x="276.63" y="513.50" width="8.1" height="7.5" fill="#c2c1e3"/>
<rect x="286.62" y="513.50" width="8.1" height="7.5" fill="#c2c1e3"/>
<rect x="296.61" y="513.50" width="8.1" height="7.5" fill="#c2c1e3"/>
<rect x="306.60" y="513.50" width="8.1" height="7.5" fill="#c2c1e3"/>
<rect x="316.59" y="513.50" width="8.1" height="7.5" fill="#c2c1e3"/>
<rect x="326.58" y="513.50" width="8.1" height="7.5" fill="#c2c1e3"/>
<rect x="336.57" y="513.50" width="8.1" height="7.5" fill="#c2c1e3"/>
<rect x="346.56" y="513.50" width="8.1" height="7.5" fill="#c2c1e3"/>
<rect x="356.55" y="513.50" width="8.1" height="7.5" fill="#c2c1e3"/>
<rect x="366.54" y="513.50" width="8.1" height="7.5" fill="#c2c1e3"/>
<rect x="376.53" y="513.50" width="8.1" height="7.5" fill="#c2c1e3"/>
<rect x="386.52" y="513.50" width="8.1" height="7.5" fill="#c2c1e3"/>
<rect x="396.51" y="513.50" width="8.1" height="7.5" fill="#c2c1e3"/>
<rect x="406.50" y="513.50" width="8.1" height="7.5" fill="#c2c1e3"/>
<rect x="416.49" y="513.50" width="8.1" height="7.5" fill="#c2c1e3"/>
<rect x="426.48" y="513.50" width="8.1" height="7.5" fill="#c2c1e3"/>
<rect x="436.47" y="513.50" width="8.1" height="7.5" fill="#c2c1e3"/>
<rect x="446.46" y="513.50" width="8.1" height="7.5" fill="#c2c1e3"/>
<rect x="456.45" y="513.50" width="8.1" height="7.5" fill="#c2c1e3"/>
<rect x="466.44" y="513.50" width="8.1" height="7.5" fill="#c2c1e3"/>
<rect x="476.43" y="513.50" width="8.1" height="7.5" fill="#c2c1e3"/>
<rect x="486.42" y="513.50" width="8.1" height="7.5" fill="#c2c1e3"/>
<rect x="496.41" y="513.50" width="8.1" height="7.5" fill="#c2c1e3"/>
<rect x="506.40" y="513.50" width="8.1" height="7.5" fill="#c2c1e3"/>
<text x="17.6" y="528.80" font-size="7.5" fill="#222">DL model</text>
<rect x="56.85" y="523.05" width="8.1" height="7.5" fill="#c2c1e3"/>
<rect x="66.84" y="523.05" width="8.1" height="7.5" fill="#c2c1e3"/>
<rect x="76.83" y="523.05" width="8.1" height="7.5" fill="#c2c1e3"/>
<rect x="86.82" y="523.05" width="8.1" height="7.5" fill="#c2c1e3"/>
<rect x="96.81" y="523.05" width="8.1" height="7.5" fill="#c2c1e3"/>
<rect x="106.80" y="523.05" width="8.1" height="7.5" fill="#c2c1e3"/>
<rect x="116.79" y="523.05" width="8.1" height="7.5" fill="#c2c1e3"/>
<rect x="126.78" y="523.05" width="8.1" height="7.5" fill="#c2c1e3"/>
<rect x="136.77" y="523.05" width="8.1" height="7.5" fill="#c2c1e3"/>
<rect x="146.76" y="523.05" width="8.1" height="7.5" fill="#5e4aa2"/>
<rect x="156.75" y="523.05" width="8.1" height="7.5" fill="#c2c1e3"/>
<rect x="166.74" y="523.05" width="8.1" height="7.5" fill="#c2c1e3"/>
<rect x="176.73" y="523.05" width="8.1" height="7.5" fill="#5e4aa2"/>
<rect x="186.72" y="523.05" width="8.1" height="7.5" fill="#c2c1e3"/>
<rect x="196.71" y="523.05" width="8.1" height="7.5" fill="#c2c1e3"/>
<rect x="206.70" y="523.05" width="8.1" height="7.5" fill="#c2c1e3"/>
<rect x="216.69" y="523.05" width="8.1" height="7.5" fill="#756bb4"/>
<rect x="226.68" y="523.05" width="8.1" height="7.5" fill="#c2c1e3"/>
<rect x="236.67" y="523.05" width="8.1" height="7.5" fill="#c2c1e3"/>
<rect x="246.66" y="523.05" width="8.1" height="7.5" fill="#c2c1e3"/>
<rect x="256.65" y="523.05" width="8.1" height="7.5" fill="#c2c1e3"/>
<rect x="266.64" y="523.05" width="8.1" height="7.5" fill="#c2c1e3"/>
<rect x="276.63" y="523.05" width="8.1" height="7.5" fill="#c2c1e3"/>
<rect x="286.62" y="523.05" width="8.1" height="7.5" fill="#c2c1e3"/>
<rect x="296.61" y="523.05" width="8.1" height="7.5" fill="#c2c1e3"/>
<rect x="306.60" y="523.05" width="8.1" height="7.5" fill="#8f87c4"/>
<rect x="316.59" y="523.05" width="8.1" height="7.5" fill="#c2c1e3"/>
<rect x="326.58" y="523.05" width="8.1" height="7.5" fill="#c2c1e3"/>
<rect x="336.57" y="523.05" width="8.1" height="7.5" fill="#c2c1e3"/>
<rect x="346.56" y="523.05" width="8.1" height="7.5" fill="#c2c1e3"/>
<rect x="356.55" y="523.05" width="8.1" height="7.5" fill="#c2c1e3"/>
<rect x="366.54" y="523.05" width="8.1" height="7.5" fill="#c2c1e3"/>
<rect x="376.53" y="523.05" width="8.1" height="7.5" fill="#c2c1e3"/>
<rect x="386.52" y="523.05" width="8.1" height="7.5" fill="#c2c1e3"/>
<rect x="396.51" y="523.05" width="8.1" height="7.5" fill="#c2c1e3"/>
<rect x="406.50" y="523.05" width="8.1" height="7.5" fill="#c2c1e3"/>
<rect x="416.49" y="523.05" width="8.1" height="7.5" fill="#c2c1e3"/>
<rect x="426.48" y="523.05" width="8.1" height="7.5" fill="#c2c1e3"/>
<rect x="436.47" y="523.05" width="8.1" height="7.5" fill="#c2c1e3"/>
<rect x="446.46" y="523.05" width="8.1" height="7.5" fill="#8f87c4"/>
<rect x="456.45" y="523.05" width="8.1" height="7.5" fill="#c2c1e3"/>
<rect x="466.44" y="523.05" width="8.1" height="7.5" fill="#c2c1e3"/>
<rect x="476.43" y="523.05" width="8.1" height="7.5" fill="#c2c1e3"/>
<rect x="486.42" y="523.05" width="8.1" height="7.5" fill="#c2c1e3"/>
<rect x="496.41" y="523.05" width="8.1" height="7.5" fill="#c2c1e3"/>
<rect x="506.40" y="523.05" width="8.1" height="7.5" fill="#c2c1e3"/>
<text x="17.6" y="538.35" font-size="7.5" fill="#222">Manual</text>
<rect x="56.85" y="532.60" width="8.1" height="7.5" fill="#8f87c4"/>
<rect x="66.84" y="532.60" width="8.1" height="7.5" fill="#756bb4"/>
<rect x="76.83" y="532.60" width="8.1" height="7.5" fill="#c2c1e3"/>
<rect x="86.82" y="532.60" width="8.1" height="7.5" fill="#c2c1e3"/>
<rect x="96.81" y="532.60" width="8.1" height="7.5" fill="#c2c1e3"/>
<rect x="106.80" y="532.60" width="8.1" height="7.5" fill="#c2c1e3"/>
<rect x="116.79" y="532.60" width="8.1" height="7.5" fill="#c2c1e3"/>
<rect x="126.78" y="532.60" width="8.1" height="7.5" fill="#c2c1e3"/>
<rect x="136.77" y="532.60" width="8.1" height="7.5" fill="#c2c1e3"/>
<rect x="146.76" y="532.60" width="8.1" height="7.5" fill="#c2c1e3"/>
<rect x="156.75" y="532.60" width="8.1" height="7.5" fill="#a29bd1"/>
<rect x="166.74" y="532.60" width="8.1" height="7.5" fill="#c2c1e3"/>
<rect x="176.73" y="532.60" width="8.1" height="7.5" fill="#5e4aa2"/>
<rect x="186.72" y="532.60" width="8.1" height="7.5" fill="#c2c1e3"/>
<rect x="196.71" y="532.60" width="8.1" height="7.5" fill="#c2c1e3"/>
<rect x="206.70" y="532.60" width="8.1" height="7.5" fill="#a29bd1"/>
<rect x="216.69" y="532.60" width="8.1" height="7.5" fill="#c2c1e3"/>
<rect x="226.68" y="532.60" width="8.1" height="7.5" fill="#8f87c4"/>
<rect x="236.67" y="532.60" width="8.1" height="7.5" fill="#c2c1e3"/>
<rect x="246.66" y="532.60" width="8.1" height="7.5" fill="#8f87c4"/>
<rect x="256.65" y="532.60" width="8.1" height="7.5" fill="#c2c1e3"/>
<rect x="266.64" y="532.60" width="8.1" height="7.5" fill="#c2c1e3"/>
<rect x="276.63" y="532.60" width="8.1" height="7.5" fill="#c2c1e3"/>
<rect x="286.62" y="532.60" width="8.1" height="7.5" fill="#c2c1e3"/>
<rect x="296.61" y="532.60" width="8.1" height="7.5" fill="#c2c1e3"/>
<rect x="306.60" y="532.60" width="8.1" height="7.5" fill="#8f87c4"/>
<rect x="316.59" y="532.60" width="8.1" height="7.5" fill="#c2c1e3"/>
<rect x="326.58" y="532.60" width="8.1" height="7.5" fill="#c2c1e3"/>
<rect x="336.57" y="532.60" width="8.1" height="7.5" fill="#c2c1e3"/>
<rect x="346.56" y="532.60" width="8.1" height="7.5" fill="#c2c1e3"/>
<rect x="356.55" y="532.60" width="8.1" height="7.5" fill="#c2c1e3"/>
<rect x="366.54" y="532.60" width="8.1" height="7.5" fill="#8f87c4"/>
<rect x="376.53" y="532.60" width="8.1" height="7.5" fill="#c2c1e3"/>
<rect x="386.52" y="532.60" width="8.1" height="7.5" fill="#c2c1e3"/>
<rect x="396.51" y="532.60" width="8.1" height="7.5" fill="#c2c1e3"/>
<rect x="406.50" y="532.60" width="8.1" height="7.5" fill="#5e4aa2"/>
<rect x="416.49" y="532.60" width="8.1" height="7.5" fill="#c2c1e3"/>
<rect x="426.48" y="532.60" width="8.1" height="7.5" fill="#c2c1e3"/>
<rect x="436.47" y="532.60" width="8.1" height="7.5" fill="#c2c1e3"/>
<rect x="446.46" y="532.60" width="8.1" height="7.5" fill="#c2c1e3"/>
<rect x="456.45" y="532.60" width="8.1" height="7.5" fill="#c2c1e3"/>
<rect x="466.44" y="532.60" width="8.1" height="7.5" fill="#c2c1e3"/>
<rect x="476.43" y="532.60" width="8.1" height="7.5" fill="#c2c1e3"/>
<rect x="486.42" y="532.60" width="8.1" height="7.5" fill="#c2c1e3"/>
<rect x="496.41" y="532.60" width="8.1" height="7.5" fill="#8f87c4"/>
<rect x="506.40" y="532.60" width="8.1" height="7.5" fill="#c2c1e3"/>
<rect x="56" y="556.7" width="10" height="10" fill="#c2c1e3" stroke="#333" stroke-width="1"/>
<text x="70" y="564.6" font-size="7.1" fill="#222">Concordant with RECIST</text>
<rect x="166" y="556.7" width="10" height="10" fill="#3f2b85" stroke="#222" stroke-width="1"/>
<text x="178.8" y="564.6" font-size="7.1" fill="#222">Discordant with RECIST</text>
<rect x="334.80" y="556.2" width="10.30" height="10.399999999999977" fill="#4d3a92"/>
<rect x="344.80" y="556.2" width="10.30" height="10.399999999999977" fill="#7063ae"/>
<rect x="354.80" y="556.2" width="10.30" height="10.399999999999977" fill="#8f86c2"/>
<rect x="364.80" y="556.2" width="10.30" height="10.399999999999977" fill="#ada7d5"/>
<rect x="374.80" y="556.2" width="10.30" height="10.399999999999977" fill="#ccc9e8"/>
<rect x="384.80" y="556.2" width="10.30" height="10.399999999999977" fill="#ada7d5"/>
<rect x="394.80" y="556.2" width="10.30" height="10.399999999999977" fill="#8f86c2"/>
<rect x="404.80" y="556.2" width="10.30" height="10.399999999999977" fill="#6f61ad"/>
<rect x="414.80" y="556.2" width="10.30" height="10.399999999999977" fill="#4a3790"/>
<rect x="334.8" y="556.2" width="90.0" height="10.399999999999977" fill="none" stroke="#222" stroke-width="1"/>
<line x1="334.9" y1="555.0" x2="334.9" y2="557.4000000000001" stroke="#222" stroke-width="0.8"/>
<text x="334.1" y="552.6" font-size="6.3" fill="#222" text-anchor="middle">-15</text>
<line x1="345.2" y1="555.0" x2="345.2" y2="557.4000000000001" stroke="#222" stroke-width="0.8"/>
<text x="346.45" y="552.6" font-size="6.3" fill="#222" text-anchor="middle">-10</text>
<line x1="355.2" y1="555.0" x2="355.2" y2="557.4000000000001" stroke="#222" stroke-width="0.8"/>
<text x="356.0" y="552.6" font-size="6.3" fill="#222" text-anchor="middle">-5</text>
<line x1="365.0" y1="555.0" x2="365.0" y2="557.4000000000001" stroke="#222" stroke-width="0.8"/>
<text x="364.9" y="552.6" font-size="6.3" fill="#222" text-anchor="middle">-2</text>
<line x1="379.7" y1="555.0" x2="379.7" y2="557.4000000000001" stroke="#222" stroke-width="0.8"/>
<text x="379.6" y="552.6" font-size="6.3" fill="#222" text-anchor="middle">0</text>
<line x1="394.8" y1="555.0" x2="394.8" y2="557.4000000000001" stroke="#222" stroke-width="0.8"/>
<text x="394.9" y="552.6" font-size="6.3" fill="#222" text-anchor="middle">2</text>
<line x1="405.0" y1="555.0" x2="405.0" y2="557.4000000000001" stroke="#222" stroke-width="0.8"/>
<text x="405.0" y="552.6" font-size="6.3" fill="#222" text-anchor="middle">5</text>
<line x1="414.9" y1="555.0" x2="414.9" y2="557.4000000000001" stroke="#222" stroke-width="0.8"/>
<text x="415.5" y="552.6" font-size="6.3" fill="#222" text-anchor="middle">10</text>
<line x1="424.7" y1="555.0" x2="424.7" y2="557.4000000000001" stroke="#222" stroke-width="0.8"/>
<text x="424.9" y="552.6" font-size="6.3" fill="#222" text-anchor="middle">15</text>
<text x="281.3" y="577" font-size="7.1" fill="#222">Difference in PFS (RECIST - DL model or manual) (months)</text>
</svg>
</body></html>
